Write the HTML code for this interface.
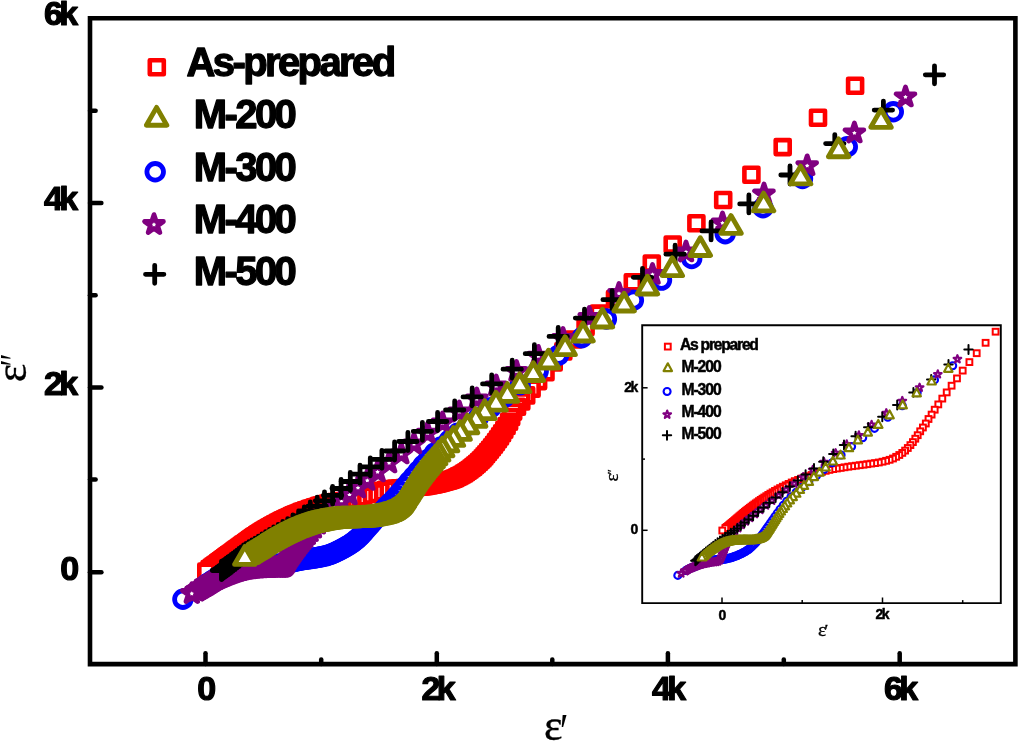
<!DOCTYPE html>
<html lang="en">
<head>
<meta charset="utf-8">
<title>Cole-Cole plot</title>
<style>
html,body{margin:0;padding:0;background:#fff;}
body{width:1019px;height:742px;overflow:hidden;}
svg{display:block;}
</style>
</head>
<body>
<svg width="1019" height="742" viewBox="0 0 1019 742">
<rect width="1019" height="742" fill="#fff"/>
<g fill="#fff" stroke="#ff0000" stroke-width="4.6" stroke-linejoin="round"><rect x="848.1" y="78.8" width="14" height="14"/><rect x="811.0" y="110.7" width="14" height="14"/><rect x="775.7" y="140.1" width="14" height="14"/><rect x="744.4" y="167.8" width="14" height="14"/><rect x="716.2" y="193.0" width="14" height="14"/><rect x="689.4" y="216.3" width="14" height="14"/><rect x="665.7" y="237.5" width="14" height="14"/><rect x="644.8" y="256.5" width="14" height="14"/><rect x="625.8" y="275.3" width="14" height="14"/><rect x="608.0" y="292.1" width="14" height="14"/><rect x="591.9" y="306.6" width="14" height="14"/><rect x="578.6" y="319.9" width="14" height="14"/><rect x="566.7" y="332.5" width="14" height="14"/><rect x="556.3" y="344.4" width="14" height="14"/><rect x="546.7" y="355.5" width="14" height="14"/><rect x="538.5" y="365.2" width="14" height="14"/><rect x="531.1" y="374.1" width="14" height="14"/><rect x="524.6" y="381.7" width="14" height="14"/><rect x="519.2" y="388.4" width="14" height="14"/><rect x="514.3" y="394.4" width="14" height="14"/><rect x="510.0" y="399.8" width="14" height="14"/><rect x="506.2" y="404.6" width="14" height="14"/><rect x="504.2" y="410.0" width="14" height="14"/><rect x="502.1" y="414.8" width="14" height="14"/><rect x="499.6" y="419.0" width="14" height="14"/><rect x="497.3" y="422.8" width="14" height="14"/><rect x="495.1" y="426.3" width="14" height="14"/><rect x="493.0" y="429.4" width="14" height="14"/><rect x="491.0" y="432.3" width="14" height="14"/><rect x="489.0" y="435.1" width="14" height="14"/><rect x="487.0" y="437.8" width="14" height="14"/><rect x="485.0" y="440.3" width="14" height="14"/><rect x="483.0" y="442.7" width="14" height="14"/><rect x="481.1" y="445.0" width="14" height="14"/><rect x="479.2" y="447.2" width="14" height="14"/><rect x="477.4" y="449.4" width="14" height="14"/><rect x="475.6" y="451.4" width="14" height="14"/><rect x="473.7" y="453.3" width="14" height="14"/><rect x="471.9" y="455.0" width="14" height="14"/><rect x="470.0" y="456.7" width="14" height="14"/><rect x="468.2" y="458.3" width="14" height="14"/><rect x="466.3" y="459.9" width="14" height="14"/><rect x="464.5" y="461.3" width="14" height="14"/><rect x="462.6" y="462.7" width="14" height="14"/><rect x="460.8" y="464.0" width="14" height="14"/><rect x="459.0" y="465.2" width="14" height="14"/><rect x="457.2" y="466.4" width="14" height="14"/><rect x="455.4" y="467.5" width="14" height="14"/><rect x="453.6" y="468.5" width="14" height="14"/><rect x="451.8" y="469.4" width="14" height="14"/><rect x="450.0" y="470.3" width="14" height="14"/><rect x="448.3" y="471.2" width="14" height="14"/><rect x="446.5" y="471.9" width="14" height="14"/><rect x="444.7" y="472.6" width="14" height="14"/><rect x="442.9" y="473.2" width="14" height="14"/><rect x="441.1" y="473.8" width="14" height="14"/><rect x="439.3" y="474.3" width="14" height="14"/><rect x="437.5" y="474.8" width="14" height="14"/><rect x="435.7" y="475.3" width="14" height="14"/><rect x="433.9" y="475.7" width="14" height="14"/><rect x="432.2" y="476.2" width="14" height="14"/><rect x="430.4" y="476.6" width="14" height="14"/><rect x="428.6" y="477.0" width="14" height="14"/><rect x="426.8" y="477.4" width="14" height="14"/><rect x="424.9" y="477.8" width="14" height="14"/><rect x="422.9" y="478.2" width="14" height="14"/><rect x="421.0" y="478.5" width="14" height="14"/><rect x="418.9" y="478.9" width="14" height="14"/><rect x="416.8" y="479.2" width="14" height="14"/><rect x="414.6" y="479.5" width="14" height="14"/><rect x="412.4" y="479.7" width="14" height="14"/><rect x="410.1" y="480.0" width="14" height="14"/><rect x="407.8" y="480.2" width="14" height="14"/><rect x="405.4" y="480.4" width="14" height="14"/><rect x="402.7" y="480.6" width="14" height="14"/><rect x="399.7" y="480.8" width="14" height="14"/><rect x="396.5" y="481.0" width="14" height="14"/><rect x="392.9" y="481.3" width="14" height="14"/><rect x="388.9" y="481.6" width="14" height="14"/><rect x="384.3" y="482.0" width="14" height="14"/><rect x="379.0" y="482.7" width="14" height="14"/><rect x="373.4" y="483.7" width="14" height="14"/><rect x="367.8" y="485.4" width="14" height="14"/><rect x="362.2" y="487.0" width="14" height="14"/><rect x="356.6" y="488.6" width="14" height="14"/><rect x="351.0" y="490.3" width="14" height="14"/><rect x="345.4" y="491.9" width="14" height="14"/><rect x="340.0" y="493.1" width="14" height="14"/><rect x="335.2" y="494.1" width="14" height="14"/><rect x="331.5" y="494.7" width="14" height="14"/><rect x="328.2" y="495.1" width="14" height="14"/><rect x="325.1" y="495.5" width="14" height="14"/><rect x="322.3" y="496.1" width="14" height="14"/><rect x="319.6" y="496.7" width="14" height="14"/><rect x="317.0" y="497.5" width="14" height="14"/><rect x="314.5" y="498.2" width="14" height="14"/><rect x="312.1" y="498.9" width="14" height="14"/><rect x="309.8" y="499.7" width="14" height="14"/><rect x="307.5" y="500.4" width="14" height="14"/><rect x="305.2" y="501.2" width="14" height="14"/><rect x="303.0" y="501.9" width="14" height="14"/><rect x="300.8" y="502.7" width="14" height="14"/><rect x="298.7" y="503.4" width="14" height="14"/><rect x="296.6" y="504.2" width="14" height="14"/><rect x="294.5" y="504.9" width="14" height="14"/><rect x="292.5" y="505.7" width="14" height="14"/><rect x="290.6" y="506.5" width="14" height="14"/><rect x="288.7" y="507.3" width="14" height="14"/><rect x="286.8" y="508.1" width="14" height="14"/><rect x="285.0" y="508.9" width="14" height="14"/><rect x="283.1" y="509.7" width="14" height="14"/><rect x="281.4" y="510.5" width="14" height="14"/><rect x="279.6" y="511.4" width="14" height="14"/><rect x="277.8" y="512.2" width="14" height="14"/><rect x="276.1" y="513.1" width="14" height="14"/><rect x="274.4" y="513.9" width="14" height="14"/><rect x="272.7" y="514.8" width="14" height="14"/><rect x="271.1" y="515.6" width="14" height="14"/><rect x="269.5" y="516.5" width="14" height="14"/><rect x="267.8" y="517.4" width="14" height="14"/><rect x="266.2" y="518.2" width="14" height="14"/><rect x="264.7" y="519.1" width="14" height="14"/><rect x="263.1" y="520.0" width="14" height="14"/><rect x="261.6" y="520.9" width="14" height="14"/><rect x="260.0" y="521.8" width="14" height="14"/><rect x="258.5" y="522.6" width="14" height="14"/><rect x="257.0" y="523.5" width="14" height="14"/><rect x="255.6" y="524.4" width="14" height="14"/><rect x="254.1" y="525.3" width="14" height="14"/><rect x="252.7" y="526.2" width="14" height="14"/><rect x="251.3" y="527.1" width="14" height="14"/><rect x="249.9" y="528.1" width="14" height="14"/><rect x="248.5" y="529.0" width="14" height="14"/><rect x="247.1" y="529.9" width="14" height="14"/><rect x="245.7" y="530.9" width="14" height="14"/><rect x="244.3" y="531.9" width="14" height="14"/><rect x="242.9" y="532.8" width="14" height="14"/><rect x="241.6" y="533.8" width="14" height="14"/><rect x="240.2" y="534.7" width="14" height="14"/><rect x="238.9" y="535.7" width="14" height="14"/><rect x="237.5" y="536.7" width="14" height="14"/><rect x="236.2" y="537.6" width="14" height="14"/><rect x="234.9" y="538.6" width="14" height="14"/><rect x="233.5" y="539.5" width="14" height="14"/><rect x="232.2" y="540.5" width="14" height="14"/><rect x="230.9" y="541.5" width="14" height="14"/><rect x="229.6" y="542.4" width="14" height="14"/><rect x="228.3" y="543.4" width="14" height="14"/><rect x="227.0" y="544.3" width="14" height="14"/><rect x="225.7" y="545.3" width="14" height="14"/><rect x="224.4" y="546.2" width="14" height="14"/><rect x="223.1" y="547.2" width="14" height="14"/><rect x="221.8" y="548.1" width="14" height="14"/><rect x="220.4" y="549.0" width="14" height="14"/><rect x="219.1" y="550.0" width="14" height="14"/><rect x="217.8" y="551.0" width="14" height="14"/><rect x="216.4" y="552.0" width="14" height="14"/><rect x="215.1" y="553.0" width="14" height="14"/><rect x="213.7" y="554.0" width="14" height="14"/><rect x="212.3" y="555.0" width="14" height="14"/><rect x="210.9" y="556.1" width="14" height="14"/><rect x="209.4" y="557.2" width="14" height="14"/><rect x="207.9" y="558.3" width="14" height="14"/><rect x="206.4" y="559.4" width="14" height="14"/><rect x="204.8" y="560.6" width="14" height="14"/><rect x="203.2" y="561.8" width="14" height="14"/><rect x="202.5" y="562.3" width="14" height="14"/><rect x="199.3" y="564.6" width="14" height="14"/></g>
<g fill="#fff" stroke="#0000ff" stroke-width="4.8"><circle cx="893.3" cy="111.8" r="8.3"/><circle cx="847.3" cy="146.7" r="8.3"/><circle cx="802.5" cy="178.5" r="8.3"/><circle cx="763.0" cy="207.8" r="8.3"/><circle cx="725.2" cy="233.7" r="8.3"/><circle cx="691.7" cy="258.5" r="8.3"/><circle cx="661.5" cy="280.1" r="8.3"/><circle cx="633.4" cy="300.2" r="8.3"/><circle cx="606.4" cy="319.0" r="8.3"/><circle cx="581.8" cy="337.7" r="8.3"/><circle cx="558.6" cy="355.1" r="8.3"/><circle cx="538.2" cy="370.9" r="8.3"/><circle cx="520.2" cy="384.8" r="8.3"/><circle cx="504.4" cy="397.1" r="8.3"/><circle cx="490.8" cy="407.7" r="8.3"/><circle cx="478.6" cy="417.1" r="8.3"/><circle cx="467.6" cy="425.5" r="8.3"/><circle cx="457.7" cy="433.2" r="8.3"/><circle cx="449.0" cy="440.5" r="8.3"/><circle cx="441.1" cy="447.0" r="8.3"/><circle cx="434.3" cy="453.3" r="8.3"/><circle cx="428.2" cy="459.5" r="8.3"/><circle cx="422.9" cy="465.5" r="8.3"/><circle cx="418.0" cy="471.3" r="8.3"/><circle cx="413.4" cy="476.7" r="8.3"/><circle cx="409.0" cy="481.8" r="8.3"/><circle cx="404.8" cy="486.8" r="8.3"/><circle cx="400.9" cy="491.5" r="8.3"/><circle cx="397.1" cy="495.8" r="8.3"/><circle cx="393.4" cy="499.8" r="8.3"/><circle cx="389.8" cy="503.4" r="8.3"/><circle cx="386.3" cy="506.8" r="8.3"/><circle cx="383.1" cy="510.2" r="8.3"/><circle cx="380.0" cy="513.5" r="8.3"/><circle cx="377.2" cy="516.7" r="8.3"/><circle cx="374.6" cy="519.7" r="8.3"/><circle cx="372.1" cy="522.7" r="8.3"/><circle cx="369.7" cy="525.4" r="8.3"/><circle cx="367.4" cy="528.0" r="8.3"/><circle cx="365.2" cy="530.5" r="8.3"/><circle cx="363.1" cy="532.9" r="8.3"/><circle cx="361.1" cy="535.1" r="8.3"/><circle cx="359.0" cy="537.2" r="8.3"/><circle cx="357.0" cy="539.1" r="8.3"/><circle cx="354.9" cy="540.8" r="8.3"/><circle cx="352.9" cy="542.4" r="8.3"/><circle cx="350.9" cy="543.8" r="8.3"/><circle cx="348.8" cy="545.1" r="8.3"/><circle cx="346.8" cy="546.3" r="8.3"/><circle cx="344.9" cy="547.4" r="8.3"/><circle cx="343.0" cy="548.4" r="8.3"/><circle cx="341.1" cy="549.4" r="8.3"/><circle cx="339.3" cy="550.4" r="8.3"/><circle cx="337.5" cy="551.3" r="8.3"/><circle cx="335.7" cy="552.1" r="8.3"/><circle cx="333.9" cy="553.0" r="8.3"/><circle cx="332.1" cy="553.7" r="8.3"/><circle cx="330.3" cy="554.4" r="8.3"/><circle cx="328.5" cy="555.0" r="8.3"/><circle cx="326.6" cy="555.6" r="8.3"/><circle cx="324.8" cy="556.0" r="8.3"/><circle cx="322.9" cy="556.5" r="8.3"/><circle cx="321.1" cy="556.8" r="8.3"/><circle cx="319.2" cy="557.2" r="8.3"/><circle cx="317.4" cy="557.5" r="8.3"/><circle cx="315.6" cy="557.8" r="8.3"/><circle cx="313.7" cy="558.1" r="8.3"/><circle cx="311.9" cy="558.3" r="8.3"/><circle cx="310.1" cy="558.6" r="8.3"/><circle cx="308.2" cy="558.9" r="8.3"/><circle cx="306.4" cy="559.1" r="8.3"/><circle cx="304.6" cy="559.4" r="8.3"/><circle cx="302.8" cy="559.7" r="8.3"/><circle cx="301.0" cy="560.0" r="8.3"/><circle cx="299.3" cy="560.3" r="8.3"/><circle cx="297.4" cy="560.7" r="8.3"/><circle cx="295.4" cy="561.1" r="8.3"/><circle cx="293.3" cy="561.6" r="8.3"/><circle cx="291.1" cy="562.1" r="8.3"/><circle cx="288.6" cy="562.6" r="8.3"/><circle cx="286.0" cy="563.2" r="8.3"/><circle cx="283.2" cy="563.6" r="8.3"/><circle cx="280.2" cy="564.0" r="8.3"/><circle cx="277.3" cy="564.3" r="8.3"/><circle cx="274.3" cy="564.6" r="8.3"/><circle cx="271.3" cy="564.9" r="8.3"/><circle cx="268.3" cy="565.2" r="8.3"/><circle cx="265.3" cy="565.6" r="8.3"/><circle cx="262.3" cy="565.9" r="8.3"/><circle cx="259.3" cy="566.2" r="8.3"/><circle cx="256.4" cy="566.5" r="8.3"/><circle cx="253.4" cy="566.8" r="8.3"/><circle cx="250.4" cy="567.1" r="8.3"/><circle cx="247.4" cy="567.5" r="8.3"/><circle cx="244.5" cy="568.0" r="8.3"/><circle cx="241.5" cy="568.6" r="8.3"/><circle cx="238.6" cy="569.3" r="8.3"/><circle cx="235.7" cy="570.1" r="8.3"/><circle cx="232.8" cy="570.9" r="8.3"/><circle cx="230.0" cy="571.9" r="8.3"/><circle cx="227.2" cy="572.9" r="8.3"/><circle cx="224.4" cy="574.0" r="8.3"/><circle cx="221.6" cy="575.2" r="8.3"/><circle cx="218.9" cy="576.5" r="8.3"/><circle cx="216.3" cy="578.0" r="8.3"/><circle cx="213.8" cy="579.6" r="8.3"/><circle cx="211.3" cy="581.2" r="8.3"/><circle cx="208.8" cy="582.9" r="8.3"/><circle cx="207.0" cy="584.0" r="8.3"/><circle cx="182.9" cy="599.2" r="8.3"/></g>
<g fill="#fff" stroke="#800080" stroke-width="4.8" stroke-linejoin="round"><path d="M905.5 96.0m0.00 -8.95l2.22 6.84l7.19 0.00l-5.82 4.23l2.22 6.84l-5.82 -4.23l-5.82 4.23l2.22 -6.84l-5.82 -4.23l7.19 -0.00z"/><path d="M854.4 132.0m0.00 -8.95l2.22 6.84l7.19 0.00l-5.82 4.23l2.22 6.84l-5.82 -4.23l-5.82 4.23l2.22 -6.84l-5.82 -4.23l7.19 -0.00z"/><path d="M807.2 164.8m0.00 -8.95l2.22 6.84l7.19 0.00l-5.82 4.23l2.22 6.84l-5.82 -4.23l-5.82 4.23l2.22 -6.84l-5.82 -4.23l7.19 -0.00z"/><path d="M764.0 193.0m0.00 -8.95l2.22 6.84l7.19 0.00l-5.82 4.23l2.22 6.84l-5.82 -4.23l-5.82 4.23l2.22 -6.84l-5.82 -4.23l7.19 -0.00z"/><path d="M722.5 222.0m0.00 -8.95l2.22 6.84l7.19 0.00l-5.82 4.23l2.22 6.84l-5.82 -4.23l-5.82 4.23l2.22 -6.84l-5.82 -4.23l7.19 -0.00z"/><path d="M686.0 251.0m0.00 -8.95l2.22 6.84l7.19 0.00l-5.82 4.23l2.22 6.84l-5.82 -4.23l-5.82 4.23l2.22 -6.84l-5.82 -4.23l7.19 -0.00z"/><path d="M652.5 273.5m0.00 -8.95l2.22 6.84l7.19 0.00l-5.82 4.23l2.22 6.84l-5.82 -4.23l-5.82 4.23l2.22 -6.84l-5.82 -4.23l7.19 -0.00z"/><path d="M619.0 292.5m0.00 -8.95l2.22 6.84l7.19 0.00l-5.82 4.23l2.22 6.84l-5.82 -4.23l-5.82 4.23l2.22 -6.84l-5.82 -4.23l7.19 -0.00z"/><path d="M589.3 316.5m0.00 -8.95l2.22 6.84l7.19 0.00l-5.82 4.23l2.22 6.84l-5.82 -4.23l-5.82 4.23l2.22 -6.84l-5.82 -4.23l7.19 -0.00z"/><path d="M563.0 337.5m0.00 -8.95l2.22 6.84l7.19 0.00l-5.82 4.23l2.22 6.84l-5.82 -4.23l-5.82 4.23l2.22 -6.84l-5.82 -4.23l7.19 -0.00z"/><path d="M538.3 355.3m0.00 -8.95l2.22 6.84l7.19 0.00l-5.82 4.23l2.22 6.84l-5.82 -4.23l-5.82 4.23l2.22 -6.84l-5.82 -4.23l7.19 -0.00z"/><path d="M516.5 370.5m0.00 -8.95l2.22 6.84l7.19 0.00l-5.82 4.23l2.22 6.84l-5.82 -4.23l-5.82 4.23l2.22 -6.84l-5.82 -4.23l7.19 -0.00z"/><path d="M496.2 385.0m0.00 -8.95l2.22 6.84l7.19 0.00l-5.82 4.23l2.22 6.84l-5.82 -4.23l-5.82 4.23l2.22 -6.84l-5.82 -4.23l7.19 -0.00z"/><path d="M476.8 398.0m0.00 -8.95l2.22 6.84l7.19 0.00l-5.82 4.23l2.22 6.84l-5.82 -4.23l-5.82 4.23l2.22 -6.84l-5.82 -4.23l7.19 -0.00z"/><path d="M459.3 411.0m0.00 -8.95l2.22 6.84l7.19 0.00l-5.82 4.23l2.22 6.84l-5.82 -4.23l-5.82 4.23l2.22 -6.84l-5.82 -4.23l7.19 -0.00z"/><path d="M442.5 422.0m0.00 -8.95l2.22 6.84l7.19 0.00l-5.82 4.23l2.22 6.84l-5.82 -4.23l-5.82 4.23l2.22 -6.84l-5.82 -4.23l7.19 -0.00z"/><path d="M427.6 432.3m0.00 -8.95l2.22 6.84l7.19 0.00l-5.82 4.23l2.22 6.84l-5.82 -4.23l-5.82 4.23l2.22 -6.84l-5.82 -4.23l7.19 -0.00z"/><path d="M414.0 443.0m0.00 -8.95l2.22 6.84l7.19 0.00l-5.82 4.23l2.22 6.84l-5.82 -4.23l-5.82 4.23l2.22 -6.84l-5.82 -4.23l7.19 -0.00z"/><path d="M401.3 453.0m0.00 -8.95l2.22 6.84l7.19 0.00l-5.82 4.23l2.22 6.84l-5.82 -4.23l-5.82 4.23l2.22 -6.84l-5.82 -4.23l7.19 -0.00z"/><path d="M389.1 462.0m0.00 -8.95l2.22 6.84l7.19 0.00l-5.82 4.23l2.22 6.84l-5.82 -4.23l-5.82 4.23l2.22 -6.84l-5.82 -4.23l7.19 -0.00z"/><path d="M377.6 471.0m0.00 -8.95l2.22 6.84l7.19 0.00l-5.82 4.23l2.22 6.84l-5.82 -4.23l-5.82 4.23l2.22 -6.84l-5.82 -4.23l7.19 -0.00z"/><path d="M367.3 479.5m0.00 -8.95l2.22 6.84l7.19 0.00l-5.82 4.23l2.22 6.84l-5.82 -4.23l-5.82 4.23l2.22 -6.84l-5.82 -4.23l7.19 -0.00z"/><path d="M358.0 487.0m0.00 -8.95l2.22 6.84l7.19 0.00l-5.82 4.23l2.22 6.84l-5.82 -4.23l-5.82 4.23l2.22 -6.84l-5.82 -4.23l7.19 -0.00z"/><path d="M349.5 494.0m0.00 -8.95l2.22 6.84l7.19 0.00l-5.82 4.23l2.22 6.84l-5.82 -4.23l-5.82 4.23l2.22 -6.84l-5.82 -4.23l7.19 -0.00z"/><path d="M341.5 500.5m0.00 -8.95l2.22 6.84l7.19 0.00l-5.82 4.23l2.22 6.84l-5.82 -4.23l-5.82 4.23l2.22 -6.84l-5.82 -4.23l7.19 -0.00z"/><path d="M334.2 506.8m0.00 -8.95l2.22 6.84l7.19 0.00l-5.82 4.23l2.22 6.84l-5.82 -4.23l-5.82 4.23l2.22 -6.84l-5.82 -4.23l7.19 -0.00z"/><path d="M327.8 513.2m0.00 -8.95l2.22 6.84l7.19 0.00l-5.82 4.23l2.22 6.84l-5.82 -4.23l-5.82 4.23l2.22 -6.84l-5.82 -4.23l7.19 -0.00z"/><path d="M322.4 518.6m0.00 -8.95l2.22 6.84l7.19 0.00l-5.82 4.23l2.22 6.84l-5.82 -4.23l-5.82 4.23l2.22 -6.84l-5.82 -4.23l7.19 -0.00z"/><path d="M317.8 523.2m0.00 -8.95l2.22 6.84l7.19 0.00l-5.82 4.23l2.22 6.84l-5.82 -4.23l-5.82 4.23l2.22 -6.84l-5.82 -4.23l7.19 -0.00z"/><path d="M313.9 527.2m0.00 -8.95l2.22 6.84l7.19 0.00l-5.82 4.23l2.22 6.84l-5.82 -4.23l-5.82 4.23l2.22 -6.84l-5.82 -4.23l7.19 -0.00z"/><path d="M310.6 530.7m0.00 -8.95l2.22 6.84l7.19 0.00l-5.82 4.23l2.22 6.84l-5.82 -4.23l-5.82 4.23l2.22 -6.84l-5.82 -4.23l7.19 -0.00z"/><path d="M307.8 533.8m0.00 -8.95l2.22 6.84l7.19 0.00l-5.82 4.23l2.22 6.84l-5.82 -4.23l-5.82 4.23l2.22 -6.84l-5.82 -4.23l7.19 -0.00z"/><path d="M305.3 536.6m0.00 -8.95l2.22 6.84l7.19 0.00l-5.82 4.23l2.22 6.84l-5.82 -4.23l-5.82 4.23l2.22 -6.84l-5.82 -4.23l7.19 -0.00z"/><path d="M303.2 539.1m0.00 -8.95l2.22 6.84l7.19 0.00l-5.82 4.23l2.22 6.84l-5.82 -4.23l-5.82 4.23l2.22 -6.84l-5.82 -4.23l7.19 -0.00z"/><path d="M301.2 541.4m0.00 -8.95l2.22 6.84l7.19 0.00l-5.82 4.23l2.22 6.84l-5.82 -4.23l-5.82 4.23l2.22 -6.84l-5.82 -4.23l7.19 -0.00z"/><path d="M299.4 543.6m0.00 -8.95l2.22 6.84l7.19 0.00l-5.82 4.23l2.22 6.84l-5.82 -4.23l-5.82 4.23l2.22 -6.84l-5.82 -4.23l7.19 -0.00z"/><path d="M297.8 545.7m0.00 -8.95l2.22 6.84l7.19 0.00l-5.82 4.23l2.22 6.84l-5.82 -4.23l-5.82 4.23l2.22 -6.84l-5.82 -4.23l7.19 -0.00z"/><path d="M296.2 547.7m0.00 -8.95l2.22 6.84l7.19 0.00l-5.82 4.23l2.22 6.84l-5.82 -4.23l-5.82 4.23l2.22 -6.84l-5.82 -4.23l7.19 -0.00z"/><path d="M294.9 549.5m0.00 -8.95l2.22 6.84l7.19 0.00l-5.82 4.23l2.22 6.84l-5.82 -4.23l-5.82 4.23l2.22 -6.84l-5.82 -4.23l7.19 -0.00z"/><path d="M293.6 551.4m0.00 -8.95l2.22 6.84l7.19 0.00l-5.82 4.23l2.22 6.84l-5.82 -4.23l-5.82 4.23l2.22 -6.84l-5.82 -4.23l7.19 -0.00z"/><path d="M292.4 553.1m0.00 -8.95l2.22 6.84l7.19 0.00l-5.82 4.23l2.22 6.84l-5.82 -4.23l-5.82 4.23l2.22 -6.84l-5.82 -4.23l7.19 -0.00z"/><path d="M291.2 554.8m0.00 -8.95l2.22 6.84l7.19 0.00l-5.82 4.23l2.22 6.84l-5.82 -4.23l-5.82 4.23l2.22 -6.84l-5.82 -4.23l7.19 -0.00z"/><path d="M290.1 556.4m0.00 -8.95l2.22 6.84l7.19 0.00l-5.82 4.23l2.22 6.84l-5.82 -4.23l-5.82 4.23l2.22 -6.84l-5.82 -4.23l7.19 -0.00z"/><path d="M289.0 558.0m0.00 -8.95l2.22 6.84l7.19 0.00l-5.82 4.23l2.22 6.84l-5.82 -4.23l-5.82 4.23l2.22 -6.84l-5.82 -4.23l7.19 -0.00z"/><path d="M288.1 559.5m0.00 -8.95l2.22 6.84l7.19 0.00l-5.82 4.23l2.22 6.84l-5.82 -4.23l-5.82 4.23l2.22 -6.84l-5.82 -4.23l7.19 -0.00z"/><path d="M287.3 561.1m0.00 -8.95l2.22 6.84l7.19 0.00l-5.82 4.23l2.22 6.84l-5.82 -4.23l-5.82 4.23l2.22 -6.84l-5.82 -4.23l7.19 -0.00z"/><path d="M286.6 562.7m0.00 -8.95l2.22 6.84l7.19 0.00l-5.82 4.23l2.22 6.84l-5.82 -4.23l-5.82 4.23l2.22 -6.84l-5.82 -4.23l7.19 -0.00z"/><path d="M285.6 564.1m0.00 -8.95l2.22 6.84l7.19 0.00l-5.82 4.23l2.22 6.84l-5.82 -4.23l-5.82 4.23l2.22 -6.84l-5.82 -4.23l7.19 -0.00z"/><path d="M284.4 565.2m0.00 -8.95l2.22 6.84l7.19 0.00l-5.82 4.23l2.22 6.84l-5.82 -4.23l-5.82 4.23l2.22 -6.84l-5.82 -4.23l7.19 -0.00z"/><path d="M283.0 566.0m0.00 -8.95l2.22 6.84l7.19 0.00l-5.82 4.23l2.22 6.84l-5.82 -4.23l-5.82 4.23l2.22 -6.84l-5.82 -4.23l7.19 -0.00z"/><path d="M281.5 566.4m0.00 -8.95l2.22 6.84l7.19 0.00l-5.82 4.23l2.22 6.84l-5.82 -4.23l-5.82 4.23l2.22 -6.84l-5.82 -4.23l7.19 -0.00z"/><path d="M279.8 566.6m0.00 -8.95l2.22 6.84l7.19 0.00l-5.82 4.23l2.22 6.84l-5.82 -4.23l-5.82 4.23l2.22 -6.84l-5.82 -4.23l7.19 -0.00z"/><path d="M278.2 566.6m0.00 -8.95l2.22 6.84l7.19 0.00l-5.82 4.23l2.22 6.84l-5.82 -4.23l-5.82 4.23l2.22 -6.84l-5.82 -4.23l7.19 -0.00z"/><path d="M276.5 566.6m0.00 -8.95l2.22 6.84l7.19 0.00l-5.82 4.23l2.22 6.84l-5.82 -4.23l-5.82 4.23l2.22 -6.84l-5.82 -4.23l7.19 -0.00z"/><path d="M274.8 566.6m0.00 -8.95l2.22 6.84l7.19 0.00l-5.82 4.23l2.22 6.84l-5.82 -4.23l-5.82 4.23l2.22 -6.84l-5.82 -4.23l7.19 -0.00z"/><path d="M273.1 566.5m0.00 -8.95l2.22 6.84l7.19 0.00l-5.82 4.23l2.22 6.84l-5.82 -4.23l-5.82 4.23l2.22 -6.84l-5.82 -4.23l7.19 -0.00z"/><path d="M271.4 566.4m0.00 -8.95l2.22 6.84l7.19 0.00l-5.82 4.23l2.22 6.84l-5.82 -4.23l-5.82 4.23l2.22 -6.84l-5.82 -4.23l7.19 -0.00z"/><path d="M269.7 566.4m0.00 -8.95l2.22 6.84l7.19 0.00l-5.82 4.23l2.22 6.84l-5.82 -4.23l-5.82 4.23l2.22 -6.84l-5.82 -4.23l7.19 -0.00z"/><path d="M267.9 566.4m0.00 -8.95l2.22 6.84l7.19 0.00l-5.82 4.23l2.22 6.84l-5.82 -4.23l-5.82 4.23l2.22 -6.84l-5.82 -4.23l7.19 -0.00z"/><path d="M266.1 566.5m0.00 -8.95l2.22 6.84l7.19 0.00l-5.82 4.23l2.22 6.84l-5.82 -4.23l-5.82 4.23l2.22 -6.84l-5.82 -4.23l7.19 -0.00z"/><path d="M264.3 566.6m0.00 -8.95l2.22 6.84l7.19 0.00l-5.82 4.23l2.22 6.84l-5.82 -4.23l-5.82 4.23l2.22 -6.84l-5.82 -4.23l7.19 -0.00z"/><path d="M262.5 566.7m0.00 -8.95l2.22 6.84l7.19 0.00l-5.82 4.23l2.22 6.84l-5.82 -4.23l-5.82 4.23l2.22 -6.84l-5.82 -4.23l7.19 -0.00z"/><path d="M260.8 566.8m0.00 -8.95l2.22 6.84l7.19 0.00l-5.82 4.23l2.22 6.84l-5.82 -4.23l-5.82 4.23l2.22 -6.84l-5.82 -4.23l7.19 -0.00z"/><path d="M259.0 566.9m0.00 -8.95l2.22 6.84l7.19 0.00l-5.82 4.23l2.22 6.84l-5.82 -4.23l-5.82 4.23l2.22 -6.84l-5.82 -4.23l7.19 -0.00z"/><path d="M257.3 567.1m0.00 -8.95l2.22 6.84l7.19 0.00l-5.82 4.23l2.22 6.84l-5.82 -4.23l-5.82 4.23l2.22 -6.84l-5.82 -4.23l7.19 -0.00z"/><path d="M255.6 567.2m0.00 -8.95l2.22 6.84l7.19 0.00l-5.82 4.23l2.22 6.84l-5.82 -4.23l-5.82 4.23l2.22 -6.84l-5.82 -4.23l7.19 -0.00z"/><path d="M253.9 567.3m0.00 -8.95l2.22 6.84l7.19 0.00l-5.82 4.23l2.22 6.84l-5.82 -4.23l-5.82 4.23l2.22 -6.84l-5.82 -4.23l7.19 -0.00z"/><path d="M252.2 567.5m0.00 -8.95l2.22 6.84l7.19 0.00l-5.82 4.23l2.22 6.84l-5.82 -4.23l-5.82 4.23l2.22 -6.84l-5.82 -4.23l7.19 -0.00z"/><path d="M250.5 567.7m0.00 -8.95l2.22 6.84l7.19 0.00l-5.82 4.23l2.22 6.84l-5.82 -4.23l-5.82 4.23l2.22 -6.84l-5.82 -4.23l7.19 -0.00z"/><path d="M248.9 567.9m0.00 -8.95l2.22 6.84l7.19 0.00l-5.82 4.23l2.22 6.84l-5.82 -4.23l-5.82 4.23l2.22 -6.84l-5.82 -4.23l7.19 -0.00z"/><path d="M247.2 568.1m0.00 -8.95l2.22 6.84l7.19 0.00l-5.82 4.23l2.22 6.84l-5.82 -4.23l-5.82 4.23l2.22 -6.84l-5.82 -4.23l7.19 -0.00z"/><path d="M245.6 568.3m0.00 -8.95l2.22 6.84l7.19 0.00l-5.82 4.23l2.22 6.84l-5.82 -4.23l-5.82 4.23l2.22 -6.84l-5.82 -4.23l7.19 -0.00z"/><path d="M244.0 568.6m0.00 -8.95l2.22 6.84l7.19 0.00l-5.82 4.23l2.22 6.84l-5.82 -4.23l-5.82 4.23l2.22 -6.84l-5.82 -4.23l7.19 -0.00z"/><path d="M242.4 568.9m0.00 -8.95l2.22 6.84l7.19 0.00l-5.82 4.23l2.22 6.84l-5.82 -4.23l-5.82 4.23l2.22 -6.84l-5.82 -4.23l7.19 -0.00z"/><path d="M240.8 569.3m0.00 -8.95l2.22 6.84l7.19 0.00l-5.82 4.23l2.22 6.84l-5.82 -4.23l-5.82 4.23l2.22 -6.84l-5.82 -4.23l7.19 -0.00z"/><path d="M239.3 569.7m0.00 -8.95l2.22 6.84l7.19 0.00l-5.82 4.23l2.22 6.84l-5.82 -4.23l-5.82 4.23l2.22 -6.84l-5.82 -4.23l7.19 -0.00z"/><path d="M237.8 570.1m0.00 -8.95l2.22 6.84l7.19 0.00l-5.82 4.23l2.22 6.84l-5.82 -4.23l-5.82 4.23l2.22 -6.84l-5.82 -4.23l7.19 -0.00z"/><path d="M236.3 570.5m0.00 -8.95l2.22 6.84l7.19 0.00l-5.82 4.23l2.22 6.84l-5.82 -4.23l-5.82 4.23l2.22 -6.84l-5.82 -4.23l7.19 -0.00z"/><path d="M234.8 571.0m0.00 -8.95l2.22 6.84l7.19 0.00l-5.82 4.23l2.22 6.84l-5.82 -4.23l-5.82 4.23l2.22 -6.84l-5.82 -4.23l7.19 -0.00z"/><path d="M233.4 571.4m0.00 -8.95l2.22 6.84l7.19 0.00l-5.82 4.23l2.22 6.84l-5.82 -4.23l-5.82 4.23l2.22 -6.84l-5.82 -4.23l7.19 -0.00z"/><path d="M232.0 571.9m0.00 -8.95l2.22 6.84l7.19 0.00l-5.82 4.23l2.22 6.84l-5.82 -4.23l-5.82 4.23l2.22 -6.84l-5.82 -4.23l7.19 -0.00z"/><path d="M230.6 572.4m0.00 -8.95l2.22 6.84l7.19 0.00l-5.82 4.23l2.22 6.84l-5.82 -4.23l-5.82 4.23l2.22 -6.84l-5.82 -4.23l7.19 -0.00z"/><path d="M229.2 572.9m0.00 -8.95l2.22 6.84l7.19 0.00l-5.82 4.23l2.22 6.84l-5.82 -4.23l-5.82 4.23l2.22 -6.84l-5.82 -4.23l7.19 -0.00z"/><path d="M227.9 573.4m0.00 -8.95l2.22 6.84l7.19 0.00l-5.82 4.23l2.22 6.84l-5.82 -4.23l-5.82 4.23l2.22 -6.84l-5.82 -4.23l7.19 -0.00z"/><path d="M226.5 573.9m0.00 -8.95l2.22 6.84l7.19 0.00l-5.82 4.23l2.22 6.84l-5.82 -4.23l-5.82 4.23l2.22 -6.84l-5.82 -4.23l7.19 -0.00z"/><path d="M225.2 574.4m0.00 -8.95l2.22 6.84l7.19 0.00l-5.82 4.23l2.22 6.84l-5.82 -4.23l-5.82 4.23l2.22 -6.84l-5.82 -4.23l7.19 -0.00z"/><path d="M223.9 574.9m0.00 -8.95l2.22 6.84l7.19 0.00l-5.82 4.23l2.22 6.84l-5.82 -4.23l-5.82 4.23l2.22 -6.84l-5.82 -4.23l7.19 -0.00z"/><path d="M222.7 575.5m0.00 -8.95l2.22 6.84l7.19 0.00l-5.82 4.23l2.22 6.84l-5.82 -4.23l-5.82 4.23l2.22 -6.84l-5.82 -4.23l7.19 -0.00z"/><path d="M221.4 576.0m0.00 -8.95l2.22 6.84l7.19 0.00l-5.82 4.23l2.22 6.84l-5.82 -4.23l-5.82 4.23l2.22 -6.84l-5.82 -4.23l7.19 -0.00z"/><path d="M220.2 576.5m0.00 -8.95l2.22 6.84l7.19 0.00l-5.82 4.23l2.22 6.84l-5.82 -4.23l-5.82 4.23l2.22 -6.84l-5.82 -4.23l7.19 -0.00z"/><path d="M219.0 577.0m0.00 -8.95l2.22 6.84l7.19 0.00l-5.82 4.23l2.22 6.84l-5.82 -4.23l-5.82 4.23l2.22 -6.84l-5.82 -4.23l7.19 -0.00z"/><path d="M217.8 577.6m0.00 -8.95l2.22 6.84l7.19 0.00l-5.82 4.23l2.22 6.84l-5.82 -4.23l-5.82 4.23l2.22 -6.84l-5.82 -4.23l7.19 -0.00z"/><path d="M216.6 578.1m0.00 -8.95l2.22 6.84l7.19 0.00l-5.82 4.23l2.22 6.84l-5.82 -4.23l-5.82 4.23l2.22 -6.84l-5.82 -4.23l7.19 -0.00z"/><path d="M215.5 578.7m0.00 -8.95l2.22 6.84l7.19 0.00l-5.82 4.23l2.22 6.84l-5.82 -4.23l-5.82 4.23l2.22 -6.84l-5.82 -4.23l7.19 -0.00z"/><path d="M214.3 579.3m0.00 -8.95l2.22 6.84l7.19 0.00l-5.82 4.23l2.22 6.84l-5.82 -4.23l-5.82 4.23l2.22 -6.84l-5.82 -4.23l7.19 -0.00z"/><path d="M213.2 579.9m0.00 -8.95l2.22 6.84l7.19 0.00l-5.82 4.23l2.22 6.84l-5.82 -4.23l-5.82 4.23l2.22 -6.84l-5.82 -4.23l7.19 -0.00z"/><path d="M212.1 580.6m0.00 -8.95l2.22 6.84l7.19 0.00l-5.82 4.23l2.22 6.84l-5.82 -4.23l-5.82 4.23l2.22 -6.84l-5.82 -4.23l7.19 -0.00z"/><path d="M211.1 581.2m0.00 -8.95l2.22 6.84l7.19 0.00l-5.82 4.23l2.22 6.84l-5.82 -4.23l-5.82 4.23l2.22 -6.84l-5.82 -4.23l7.19 -0.00z"/><path d="M210.0 581.9m0.00 -8.95l2.22 6.84l7.19 0.00l-5.82 4.23l2.22 6.84l-5.82 -4.23l-5.82 4.23l2.22 -6.84l-5.82 -4.23l7.19 -0.00z"/><path d="M209.0 582.5m0.00 -8.95l2.22 6.84l7.19 0.00l-5.82 4.23l2.22 6.84l-5.82 -4.23l-5.82 4.23l2.22 -6.84l-5.82 -4.23l7.19 -0.00z"/><path d="M207.9 583.2m0.00 -8.95l2.22 6.84l7.19 0.00l-5.82 4.23l2.22 6.84l-5.82 -4.23l-5.82 4.23l2.22 -6.84l-5.82 -4.23l7.19 -0.00z"/><path d="M206.9 583.9m0.00 -8.95l2.22 6.84l7.19 0.00l-5.82 4.23l2.22 6.84l-5.82 -4.23l-5.82 4.23l2.22 -6.84l-5.82 -4.23l7.19 -0.00z"/><path d="M205.9 584.5m0.00 -8.95l2.22 6.84l7.19 0.00l-5.82 4.23l2.22 6.84l-5.82 -4.23l-5.82 4.23l2.22 -6.84l-5.82 -4.23l7.19 -0.00z"/><path d="M204.8 585.1m0.00 -8.95l2.22 6.84l7.19 0.00l-5.82 4.23l2.22 6.84l-5.82 -4.23l-5.82 4.23l2.22 -6.84l-5.82 -4.23l7.19 -0.00z"/><path d="M203.8 585.7m0.00 -8.95l2.22 6.84l7.19 0.00l-5.82 4.23l2.22 6.84l-5.82 -4.23l-5.82 4.23l2.22 -6.84l-5.82 -4.23l7.19 -0.00z"/><path d="M202.7 586.3m0.00 -8.95l2.22 6.84l7.19 0.00l-5.82 4.23l2.22 6.84l-5.82 -4.23l-5.82 4.23l2.22 -6.84l-5.82 -4.23l7.19 -0.00z"/><path d="M201.7 586.9m0.00 -8.95l2.22 6.84l7.19 0.00l-5.82 4.23l2.22 6.84l-5.82 -4.23l-5.82 4.23l2.22 -6.84l-5.82 -4.23l7.19 -0.00z"/><path d="M200.7 587.5m0.00 -8.95l2.22 6.84l7.19 0.00l-5.82 4.23l2.22 6.84l-5.82 -4.23l-5.82 4.23l2.22 -6.84l-5.82 -4.23l7.19 -0.00z"/><path d="M199.6 588.1m0.00 -8.95l2.22 6.84l7.19 0.00l-5.82 4.23l2.22 6.84l-5.82 -4.23l-5.82 4.23l2.22 -6.84l-5.82 -4.23l7.19 -0.00z"/><path d="M198.6 588.7m0.00 -8.95l2.22 6.84l7.19 0.00l-5.82 4.23l2.22 6.84l-5.82 -4.23l-5.82 4.23l2.22 -6.84l-5.82 -4.23l7.19 -0.00z"/><path d="M197.5 589.3m0.00 -8.95l2.22 6.84l7.19 0.00l-5.82 4.23l2.22 6.84l-5.82 -4.23l-5.82 4.23l2.22 -6.84l-5.82 -4.23l7.19 -0.00z"/><path d="M196.5 589.9m0.00 -8.95l2.22 6.84l7.19 0.00l-5.82 4.23l2.22 6.84l-5.82 -4.23l-5.82 4.23l2.22 -6.84l-5.82 -4.23l7.19 -0.00z"/><path d="M196.0 590.2m0.00 -8.95l2.22 6.84l7.19 0.00l-5.82 4.23l2.22 6.84l-5.82 -4.23l-5.82 4.23l2.22 -6.84l-5.82 -4.23l7.19 -0.00z"/><path d="M191.8 592.6m0.00 -8.95l2.22 6.84l7.19 0.00l-5.82 4.23l2.22 6.84l-5.82 -4.23l-5.82 4.23l2.22 -6.84l-5.82 -4.23l7.19 -0.00z"/></g>
<g fill="none" stroke="#000000" stroke-width="4.8" stroke-linecap="round"><path d="M925.3 74.8h18.4M934.5 65.8v18"/><path d="M874.2 110.1h18.4M883.4 101.1v18"/><path d="M825.6 143.6h18.4M834.8 134.6v18"/><path d="M780.8 175.0h18.4M790.0 166.0v18"/><path d="M739.7 203.9h18.4M748.9 194.9v18"/><path d="M701.9 230.9h18.4M711.1 221.9v18"/><path d="M665.9 254.2h18.4M675.1 245.2v18"/><path d="M633.3 277.3h18.4M642.5 268.3v18"/><path d="M602.9 299.7h18.4M612.1 290.7v18"/><path d="M575.3 318.1h18.4M584.5 309.1v18"/><path d="M549.0 336.4h18.4M558.2 327.4v18"/><path d="M525.2 353.7h18.4M534.4 344.7v18"/><path d="M503.0 369.2h18.4M512.2 360.2v18"/><path d="M482.5 383.9h18.4M491.7 374.9v18"/><path d="M463.0 396.9h18.4M472.2 387.9v18"/><path d="M445.5 410.0h18.4M454.7 401.0v18"/><path d="M428.4 421.5h18.4M437.6 412.5v18"/><path d="M413.2 431.3h18.4M422.4 422.3v18"/><path d="M398.7 441.5h18.4M407.9 432.5v18"/><path d="M385.4 451.0h18.4M394.6 442.0v18"/><path d="M372.7 459.3h18.4M381.9 450.3v18"/><path d="M361.1 466.8h18.4M370.3 457.8v18"/><path d="M350.8 474.2h18.4M360.0 465.2v18"/><path d="M341.1 481.5h18.4M350.3 472.5v18"/><path d="M331.9 488.5h18.4M341.1 479.5v18"/><path d="M323.4 495.3h18.4M332.6 486.3v18"/><path d="M315.3 500.8h18.4M324.5 491.8v18"/><path d="M308.0 506.2h18.4M317.2 497.2v18"/><path d="M301.1 511.0h18.4M310.3 502.0v18"/><path d="M295.1 516.0h18.4M304.3 507.0v18"/><path d="M289.4 520.0h18.4M298.6 511.0v18"/><path d="M283.7 524.0h18.4M292.9 515.0v18"/><path d="M278.5 527.6h18.4M287.7 518.6v18"/><path d="M273.6 530.5h18.4M282.8 521.5v18"/><path d="M269.0 533.3h18.4M278.2 524.3v18"/><path d="M264.5 535.9h18.4M273.7 526.9v18"/><path d="M260.3 538.3h18.4M269.5 529.3v18"/><path d="M256.4 540.7h18.4M265.6 531.7v18"/><path d="M252.7 543.0h18.4M261.9 534.0v18"/><path d="M249.2 545.1h18.4M258.4 536.1v18"/><path d="M245.9 547.1h18.4M255.1 538.1v18"/><path d="M242.7 548.9h18.4M251.9 539.9v18"/><path d="M239.7 550.6h18.4M248.9 541.6v18"/><path d="M236.9 552.3h18.4M246.1 543.3v18"/><path d="M234.4 554.0h18.4M243.6 545.0v18"/><path d="M232.0 555.8h18.4M241.2 546.8v18"/><path d="M229.8 557.5h18.4M239.0 548.5v18"/><path d="M227.8 559.1h18.4M237.0 550.1v18"/><path d="M225.8 560.7h18.4M235.0 551.7v18"/><path d="M223.9 562.1h18.4M233.1 553.1v18"/><path d="M222.1 563.5h18.4M231.3 554.5v18"/><path d="M220.4 564.8h18.4M229.6 555.8v18"/><path d="M218.7 566.0h18.4M227.9 557.0v18"/><path d="M217.0 567.2h18.4M226.2 558.2v18"/><path d="M215.5 568.3h18.4M224.7 559.3v18"/><path d="M214.0 569.3h18.4M223.2 560.3v18"/><path d="M212.6 570.3h18.4M221.8 561.3v18"/><path d="M212.3 570.5h18.4M221.5 561.5v18"/></g>
<g fill="#fff" stroke="#808000" stroke-width="4.85" stroke-linejoin="round"><path d="M881.0 109.5l10.25 17.8h-20.5z"/><path d="M838.6 138.9l10.25 17.8h-20.5z"/><path d="M800.6 166.1l10.25 17.8h-20.5z"/><path d="M763.6 193.1l10.25 17.8h-20.5z"/><path d="M731.0 215.5l10.25 17.8h-20.5z"/><path d="M700.3 237.7l10.25 17.8h-20.5z"/><path d="M672.3 257.8l10.25 17.8h-20.5z"/><path d="M647.4 276.2l10.25 17.8h-20.5z"/><path d="M624.1 293.2l10.25 17.8h-20.5z"/><path d="M602.4 309.2l10.25 17.8h-20.5z"/><path d="M583.0 323.2l10.25 17.8h-20.5z"/><path d="M565.1 336.8l10.25 17.8h-20.5z"/><path d="M548.5 350.2l10.25 17.8h-20.5z"/><path d="M533.3 362.7l10.25 17.8h-20.5z"/><path d="M519.7 373.9l10.25 17.8h-20.5z"/><path d="M507.4 383.6l10.25 17.8h-20.5z"/><path d="M496.0 392.3l10.25 17.8h-20.5z"/><path d="M484.8 400.9l10.25 17.8h-20.5z"/><path d="M475.7 408.5l10.25 17.8h-20.5z"/><path d="M467.5 415.0l10.25 17.8h-20.5z"/><path d="M460.2 421.6l10.25 17.8h-20.5z"/><path d="M453.4 427.6l10.25 17.8h-20.5z"/><path d="M447.5 433.1l10.25 17.8h-20.5z"/><path d="M442.6 438.0l10.25 17.8h-20.5z"/><path d="M438.7 442.3l10.25 17.8h-20.5z"/><path d="M435.6 446.0l10.25 17.8h-20.5z"/><path d="M433.1 449.0l10.25 17.8h-20.5z"/><path d="M430.9 451.5l10.25 17.8h-20.5z"/><path d="M428.8 453.9l10.25 17.8h-20.5z"/><path d="M426.9 456.1l10.25 17.8h-20.5z"/><path d="M425.1 458.2l10.25 17.8h-20.5z"/><path d="M423.5 460.2l10.25 17.8h-20.5z"/><path d="M422.0 462.2l10.25 17.8h-20.5z"/><path d="M420.5 464.0l10.25 17.8h-20.5z"/><path d="M419.1 465.9l10.25 17.8h-20.5z"/><path d="M417.8 467.7l10.25 17.8h-20.5z"/><path d="M416.5 469.4l10.25 17.8h-20.5z"/><path d="M415.3 471.1l10.25 17.8h-20.5z"/><path d="M414.2 472.8l10.25 17.8h-20.5z"/><path d="M413.1 474.5l10.25 17.8h-20.5z"/><path d="M412.1 476.1l10.25 17.8h-20.5z"/><path d="M411.1 477.8l10.25 17.8h-20.5z"/><path d="M410.1 479.4l10.25 17.8h-20.5z"/><path d="M409.1 481.0l10.25 17.8h-20.5z"/><path d="M408.1 482.6l10.25 17.8h-20.5z"/><path d="M407.1 484.1l10.25 17.8h-20.5z"/><path d="M406.1 485.7l10.25 17.8h-20.5z"/><path d="M405.2 487.2l10.25 17.8h-20.5z"/><path d="M404.3 488.7l10.25 17.8h-20.5z"/><path d="M403.4 490.2l10.25 17.8h-20.5z"/><path d="M402.4 491.6l10.25 17.8h-20.5z"/><path d="M401.5 493.0l10.25 17.8h-20.5z"/><path d="M400.5 494.3l10.25 17.8h-20.5z"/><path d="M399.4 495.5l10.25 17.8h-20.5z"/><path d="M398.2 496.6l10.25 17.8h-20.5z"/><path d="M397.0 497.7l10.25 17.8h-20.5z"/><path d="M395.7 498.7l10.25 17.8h-20.5z"/><path d="M394.4 499.6l10.25 17.8h-20.5z"/><path d="M393.1 500.4l10.25 17.8h-20.5z"/><path d="M391.7 501.2l10.25 17.8h-20.5z"/><path d="M390.2 501.8l10.25 17.8h-20.5z"/><path d="M388.7 502.4l10.25 17.8h-20.5z"/><path d="M387.3 503.0l10.25 17.8h-20.5z"/><path d="M385.7 503.5l10.25 17.8h-20.5z"/><path d="M384.2 503.9l10.25 17.8h-20.5z"/><path d="M382.7 504.3l10.25 17.8h-20.5z"/><path d="M381.2 504.7l10.25 17.8h-20.5z"/><path d="M379.6 505.0l10.25 17.8h-20.5z"/><path d="M378.1 505.3l10.25 17.8h-20.5z"/><path d="M376.5 505.6l10.25 17.8h-20.5z"/><path d="M375.0 505.9l10.25 17.8h-20.5z"/><path d="M373.4 506.2l10.25 17.8h-20.5z"/><path d="M371.9 506.4l10.25 17.8h-20.5z"/><path d="M370.3 506.7l10.25 17.8h-20.5z"/><path d="M368.8 506.9l10.25 17.8h-20.5z"/><path d="M367.2 507.0l10.25 17.8h-20.5z"/><path d="M365.6 507.2l10.25 17.8h-20.5z"/><path d="M364.1 507.3l10.25 17.8h-20.5z"/><path d="M362.5 507.4l10.25 17.8h-20.5z"/><path d="M360.9 507.5l10.25 17.8h-20.5z"/><path d="M359.4 507.6l10.25 17.8h-20.5z"/><path d="M357.8 507.6l10.25 17.8h-20.5z"/><path d="M356.3 507.7l10.25 17.8h-20.5z"/><path d="M354.7 507.8l10.25 17.8h-20.5z"/><path d="M353.1 507.8l10.25 17.8h-20.5z"/><path d="M351.6 507.9l10.25 17.8h-20.5z"/><path d="M350.0 508.0l10.25 17.8h-20.5z"/><path d="M348.5 508.0l10.25 17.8h-20.5z"/><path d="M346.9 508.1l10.25 17.8h-20.5z"/><path d="M345.4 508.1l10.25 17.8h-20.5z"/><path d="M343.8 508.1l10.25 17.8h-20.5z"/><path d="M342.3 508.1l10.25 17.8h-20.5z"/><path d="M340.7 508.2l10.25 17.8h-20.5z"/><path d="M339.2 508.3l10.25 17.8h-20.5z"/><path d="M337.6 508.4l10.25 17.8h-20.5z"/><path d="M336.1 508.5l10.25 17.8h-20.5z"/><path d="M334.6 508.7l10.25 17.8h-20.5z"/><path d="M333.0 508.9l10.25 17.8h-20.5z"/><path d="M331.5 509.1l10.25 17.8h-20.5z"/><path d="M330.0 509.3l10.25 17.8h-20.5z"/><path d="M328.5 509.5l10.25 17.8h-20.5z"/><path d="M326.9 509.8l10.25 17.8h-20.5z"/><path d="M325.4 510.0l10.25 17.8h-20.5z"/><path d="M323.9 510.3l10.25 17.8h-20.5z"/><path d="M322.4 510.6l10.25 17.8h-20.5z"/><path d="M320.9 510.9l10.25 17.8h-20.5z"/><path d="M319.4 511.2l10.25 17.8h-20.5z"/><path d="M317.9 511.5l10.25 17.8h-20.5z"/><path d="M316.4 511.8l10.25 17.8h-20.5z"/><path d="M314.9 512.1l10.25 17.8h-20.5z"/><path d="M313.4 512.5l10.25 17.8h-20.5z"/><path d="M311.9 512.8l10.25 17.8h-20.5z"/><path d="M310.4 513.2l10.25 17.8h-20.5z"/><path d="M309.0 513.6l10.25 17.8h-20.5z"/><path d="M307.5 514.1l10.25 17.8h-20.5z"/><path d="M306.1 514.5l10.25 17.8h-20.5z"/><path d="M304.6 515.0l10.25 17.8h-20.5z"/><path d="M303.2 515.5l10.25 17.8h-20.5z"/><path d="M301.7 516.0l10.25 17.8h-20.5z"/><path d="M300.3 516.5l10.25 17.8h-20.5z"/><path d="M298.9 517.0l10.25 17.8h-20.5z"/><path d="M297.5 517.6l10.25 17.8h-20.5z"/><path d="M296.1 518.1l10.25 17.8h-20.5z"/><path d="M294.7 518.7l10.25 17.8h-20.5z"/><path d="M293.3 519.3l10.25 17.8h-20.5z"/><path d="M291.9 519.9l10.25 17.8h-20.5z"/><path d="M290.5 520.5l10.25 17.8h-20.5z"/><path d="M289.2 521.1l10.25 17.8h-20.5z"/><path d="M287.8 521.8l10.25 17.8h-20.5z"/><path d="M286.5 522.4l10.25 17.8h-20.5z"/><path d="M285.1 523.1l10.25 17.8h-20.5z"/><path d="M283.8 523.7l10.25 17.8h-20.5z"/><path d="M282.4 524.4l10.25 17.8h-20.5z"/><path d="M281.0 525.1l10.25 17.8h-20.5z"/><path d="M279.7 525.8l10.25 17.8h-20.5z"/><path d="M278.3 526.5l10.25 17.8h-20.5z"/><path d="M277.0 527.2l10.25 17.8h-20.5z"/><path d="M275.6 528.0l10.25 17.8h-20.5z"/><path d="M274.2 528.7l10.25 17.8h-20.5z"/><path d="M272.9 529.5l10.25 17.8h-20.5z"/><path d="M271.5 530.2l10.25 17.8h-20.5z"/><path d="M270.1 531.0l10.25 17.8h-20.5z"/><path d="M268.7 531.8l10.25 17.8h-20.5z"/><path d="M267.3 532.7l10.25 17.8h-20.5z"/><path d="M265.9 533.6l10.25 17.8h-20.5z"/><path d="M264.4 534.5l10.25 17.8h-20.5z"/><path d="M262.9 535.4l10.25 17.8h-20.5z"/><path d="M261.4 536.4l10.25 17.8h-20.5z"/><path d="M259.8 537.5l10.25 17.8h-20.5z"/><path d="M258.2 538.5l10.25 17.8h-20.5z"/><path d="M256.5 539.5l10.25 17.8h-20.5z"/><path d="M254.7 540.6l10.25 17.8h-20.5z"/><path d="M252.9 541.7l10.25 17.8h-20.5z"/><path d="M251.0 542.9l10.25 17.8h-20.5z"/><path d="M249.0 544.1l10.25 17.8h-20.5z"/><path d="M248.0 544.7l10.25 17.8h-20.5z"/><path d="M244.8 546.6l10.25 17.8h-20.5z"/></g>
<g fill="none" stroke="#000" stroke-width="4.5" stroke-linecap="round">
<path d="M90.00 18.20 H1015.40 V664.15 H90.00 Z" stroke-linejoin="miter" stroke-width="4.6"/>
<path d="M90.0 203.1 H101.4"/>
<path d="M90.0 387.4 H101.4"/>
<path d="M90.0 572.2 H101.4"/>
<path d="M90.0 110.8 H95.6"/>
<path d="M90.0 295.2 H95.6"/>
<path d="M90.0 479.6 H95.6"/>
<path d="M205.5 664.1 V653.2"/>
<path d="M436.8 664.1 V653.2"/>
<path d="M667.9 664.1 V653.2"/>
<path d="M899.7 664.1 V653.2"/>
<path d="M321.2 664.1 V659.6"/>
<path d="M552.3 664.1 V659.6"/>
<path d="M783.8 664.1 V659.6"/>
</g>
<g font-family="'Liberation Sans', Arial, Helvetica, sans-serif" font-weight="bold" fill="#000" stroke="#000" stroke-width="1.2" stroke-linejoin="round">
<g font-size="34" letter-spacing="-3.6">
<text x="44.0" y="25.0">6k</text>
<text x="44.0" y="210.3">4k</text>
<text x="44.0" y="395.0">2k</text>
<text x="60.2" y="580.3">0</text>
</g>
<g font-size="34" letter-spacing="-3.6">
<text x="197.2" y="699.8">0</text>
<text x="421.4" y="699.8">2k</text>
<text x="652.0" y="699.8">4k</text>
<text x="884.0" y="699.8">6k</text>
</g>
<g font-size="40" stroke-width="1.3">
<text x="186.5" y="75.9" letter-spacing="-2.6">As-prepared</text>
<text x="193.8" y="127.9" letter-spacing="-2.6">M-200</text>
<text x="193.8" y="180.6" letter-spacing="-2.6">M-300</text>
<text x="193.8" y="233.2" letter-spacing="-2.6">M-400</text>
<text x="193.8" y="284.7" letter-spacing="-2.6">M-500</text>
</g>
</g>
<g fill="#fff" stroke="#ff0000" stroke-width="4.6" stroke-linejoin="round"><rect x="149.8" y="60.2" width="14" height="14"/></g>
<g fill="#fff" stroke="#808000" stroke-width="4.85" stroke-linejoin="round"><path d="M156.6 107.4l10.25 17.8h-20.5z"/></g>
<g fill="#fff" stroke="#0000ff" stroke-width="4.8"><circle cx="155.2" cy="171.8" r="8.3"/></g>
<g fill="#fff" stroke="#800080" stroke-width="4.8" stroke-linejoin="round"><path d="M154.0 223.6m0.00 -8.95l2.22 6.84l7.19 0.00l-5.82 4.23l2.22 6.84l-5.82 -4.23l-5.82 4.23l2.22 -6.84l-5.82 -4.23l7.19 -0.00z"/></g>
<g fill="none" stroke="#000000" stroke-width="4.8" stroke-linecap="round"><path d="M145.5 274.3h18.4M154.7 265.3v18"/></g>
<g font-family="'Liberation Serif', 'DejaVu Serif', 'Times New Roman', serif" fill="#000" stroke="#000" stroke-width="0.35" font-size="44">
<text x="543.9" y="739.6">ε</text>
<text transform="translate(559.7,748.1) scale(0.8,1)" font-size="50" stroke="none">′</text>
<g transform="translate(25.9,382.2) rotate(-90)">
<text x="0" y="0">ε</text>
<text transform="translate(15.8,1.2) scale(0.79,1)" font-size="40" stroke="none">″</text>
</g>
</g>
<rect x="642.2" y="325.3" width="358.6" height="277.8" fill="#fff"/>
<g fill="#fff" stroke="#ff0000" stroke-width="2"><rect x="992.7" y="328.8" width="5.8" height="5.8"/><rect x="982.7" y="339.9" width="5.8" height="5.8"/><rect x="973.8" y="350.3" width="5.8" height="5.8"/><rect x="966.5" y="359.2" width="5.8" height="5.8"/><rect x="959.8" y="367.7" width="5.8" height="5.8"/><rect x="954.1" y="375.5" width="5.8" height="5.8"/><rect x="948.7" y="382.8" width="5.8" height="5.8"/><rect x="943.8" y="389.5" width="5.8" height="5.8"/><rect x="939.4" y="395.7" width="5.8" height="5.8"/><rect x="935.4" y="401.5" width="5.8" height="5.8"/><rect x="931.8" y="406.8" width="5.8" height="5.8"/><rect x="928.7" y="411.7" width="5.8" height="5.8"/><rect x="925.6" y="416.1" width="5.8" height="5.8"/><rect x="922.9" y="420.6" width="5.8" height="5.8"/><rect x="920.0" y="424.6" width="5.8" height="5.8"/><rect x="917.3" y="428.4" width="5.8" height="5.8"/><rect x="914.8" y="432.3" width="5.8" height="5.8"/><rect x="912.4" y="435.8" width="5.8" height="5.8"/><rect x="910.0" y="439.2" width="5.8" height="5.8"/><rect x="907.5" y="442.2" width="5.8" height="5.8"/><rect x="904.9" y="445.1" width="5.8" height="5.8"/><rect x="902.2" y="447.7" width="5.8" height="5.8"/><rect x="899.4" y="450.0" width="5.8" height="5.8"/><rect x="896.4" y="452.1" width="5.8" height="5.8"/><rect x="893.3" y="453.9" width="5.8" height="5.8"/><rect x="890.1" y="455.6" width="5.8" height="5.8"/><rect x="886.7" y="456.9" width="5.8" height="5.8"/><rect x="883.2" y="457.9" width="5.8" height="5.8"/><rect x="879.6" y="458.8" width="5.8" height="5.8"/><rect x="875.9" y="459.6" width="5.8" height="5.8"/><rect x="872.1" y="460.2" width="5.8" height="5.8"/><rect x="868.3" y="460.7" width="5.8" height="5.8"/><rect x="864.4" y="461.3" width="5.8" height="5.8"/><rect x="860.6" y="461.8" width="5.8" height="5.8"/><rect x="856.8" y="462.3" width="5.8" height="5.8"/><rect x="853.0" y="462.8" width="5.8" height="5.8"/><rect x="849.2" y="463.3" width="5.8" height="5.8"/><rect x="845.4" y="463.8" width="5.8" height="5.8"/><rect x="841.6" y="464.4" width="5.8" height="5.8"/><rect x="837.8" y="465.0" width="5.8" height="5.8"/><rect x="834.0" y="465.6" width="5.8" height="5.8"/><rect x="830.2" y="466.2" width="5.8" height="5.8"/><rect x="826.5" y="467.0" width="5.8" height="5.8"/><rect x="822.8" y="467.9" width="5.8" height="5.8"/><rect x="819.2" y="468.8" width="5.8" height="5.8"/><rect x="815.6" y="469.8" width="5.8" height="5.8"/><rect x="812.1" y="471.0" width="5.8" height="5.8"/><rect x="808.7" y="472.1" width="5.8" height="5.8"/><rect x="805.2" y="473.3" width="5.8" height="5.8"/><rect x="801.8" y="474.5" width="5.8" height="5.8"/><rect x="798.5" y="475.7" width="5.8" height="5.8"/><rect x="795.2" y="477.0" width="5.8" height="5.8"/><rect x="791.9" y="478.2" width="5.8" height="5.8"/><rect x="788.8" y="479.6" width="5.8" height="5.8"/><rect x="785.7" y="481.0" width="5.8" height="5.8"/><rect x="782.8" y="482.4" width="5.8" height="5.8"/><rect x="779.9" y="483.8" width="5.8" height="5.8"/><rect x="777.2" y="485.2" width="5.8" height="5.8"/><rect x="774.6" y="486.6" width="5.8" height="5.8"/><rect x="772.1" y="488.0" width="5.8" height="5.8"/><rect x="769.7" y="489.4" width="5.8" height="5.8"/><rect x="767.5" y="490.7" width="5.8" height="5.8"/><rect x="765.4" y="492.0" width="5.8" height="5.8"/><rect x="763.4" y="493.3" width="5.8" height="5.8"/><rect x="761.4" y="494.6" width="5.8" height="5.8"/><rect x="759.6" y="495.8" width="5.8" height="5.8"/><rect x="757.8" y="497.0" width="5.8" height="5.8"/><rect x="756.1" y="498.2" width="5.8" height="5.8"/><rect x="754.5" y="499.4" width="5.8" height="5.8"/><rect x="752.9" y="500.5" width="5.8" height="5.8"/><rect x="751.4" y="501.6" width="5.8" height="5.8"/><rect x="749.9" y="502.7" width="5.8" height="5.8"/><rect x="748.5" y="503.8" width="5.8" height="5.8"/><rect x="747.1" y="504.9" width="5.8" height="5.8"/><rect x="745.8" y="505.9" width="5.8" height="5.8"/><rect x="744.5" y="506.9" width="5.8" height="5.8"/><rect x="743.2" y="507.9" width="5.8" height="5.8"/><rect x="742.0" y="508.9" width="5.8" height="5.8"/><rect x="740.8" y="509.9" width="5.8" height="5.8"/><rect x="739.7" y="510.8" width="5.8" height="5.8"/><rect x="738.6" y="511.8" width="5.8" height="5.8"/><rect x="737.5" y="512.7" width="5.8" height="5.8"/><rect x="736.4" y="513.6" width="5.8" height="5.8"/><rect x="735.3" y="514.6" width="5.8" height="5.8"/><rect x="734.2" y="515.5" width="5.8" height="5.8"/><rect x="733.2" y="516.4" width="5.8" height="5.8"/><rect x="732.1" y="517.3" width="5.8" height="5.8"/><rect x="731.1" y="518.2" width="5.8" height="5.8"/><rect x="730.1" y="519.0" width="5.8" height="5.8"/><rect x="729.1" y="519.9" width="5.8" height="5.8"/><rect x="728.1" y="520.7" width="5.8" height="5.8"/><rect x="727.1" y="521.5" width="5.8" height="5.8"/><rect x="726.1" y="522.4" width="5.8" height="5.8"/><rect x="725.1" y="523.2" width="5.8" height="5.8"/><rect x="724.1" y="524.0" width="5.8" height="5.8"/><rect x="723.0" y="524.8" width="5.8" height="5.8"/><rect x="722.4" y="525.3" width="5.8" height="5.8"/><rect x="719.4" y="527.6" width="5.8" height="5.8"/></g>
<g fill="#fff" stroke="#0000ff" stroke-width="2.1"><circle cx="952.7" cy="365.7" r="3.5"/><circle cx="934.5" cy="379.9" r="3.5"/><circle cx="917.2" cy="392.8" r="3.5"/><circle cx="902.3" cy="405.7" r="3.5"/><circle cx="887.8" cy="417.3" r="3.5"/><circle cx="874.5" cy="428.4" r="3.5"/><circle cx="862.7" cy="437.7" r="3.5"/><circle cx="851.6" cy="446.6" r="3.5"/><circle cx="841.1" cy="455.0" r="3.5"/><circle cx="832.2" cy="462.8" r="3.5"/><circle cx="824.0" cy="469.5" r="3.5"/><circle cx="816.4" cy="475.9" r="3.5"/><circle cx="808.8" cy="481.8" r="3.5"/><circle cx="802.1" cy="487.2" r="3.5"/><circle cx="796.2" cy="492.2" r="3.5"/><circle cx="791.0" cy="496.7" r="3.5"/><circle cx="786.7" cy="501.2" r="3.5"/><circle cx="783.1" cy="505.4" r="3.5"/><circle cx="780.0" cy="509.4" r="3.5"/><circle cx="777.3" cy="513.1" r="3.5"/><circle cx="774.8" cy="516.6" r="3.5"/><circle cx="772.6" cy="519.9" r="3.5"/><circle cx="770.5" cy="522.9" r="3.5"/><circle cx="768.6" cy="525.7" r="3.5"/><circle cx="766.8" cy="528.3" r="3.5"/><circle cx="765.1" cy="530.7" r="3.5"/><circle cx="763.5" cy="533.0" r="3.5"/><circle cx="762.0" cy="535.0" r="3.5"/><circle cx="760.6" cy="536.9" r="3.5"/><circle cx="759.2" cy="538.7" r="3.5"/><circle cx="757.9" cy="540.3" r="3.5"/><circle cx="756.6" cy="541.8" r="3.5"/><circle cx="755.2" cy="543.3" r="3.5"/><circle cx="753.9" cy="544.6" r="3.5"/><circle cx="752.6" cy="545.8" r="3.5"/><circle cx="751.4" cy="547.0" r="3.5"/><circle cx="750.1" cy="548.1" r="3.5"/><circle cx="748.9" cy="549.2" r="3.5"/><circle cx="747.6" cy="550.1" r="3.5"/><circle cx="746.3" cy="550.9" r="3.5"/><circle cx="745.1" cy="551.7" r="3.5"/><circle cx="743.8" cy="552.4" r="3.5"/><circle cx="742.5" cy="553.1" r="3.5"/><circle cx="741.2" cy="553.7" r="3.5"/><circle cx="739.9" cy="554.3" r="3.5"/><circle cx="738.6" cy="554.9" r="3.5"/><circle cx="737.4" cy="555.5" r="3.5"/><circle cx="736.1" cy="556.0" r="3.5"/><circle cx="734.8" cy="556.4" r="3.5"/><circle cx="733.6" cy="556.9" r="3.5"/><circle cx="732.3" cy="557.3" r="3.5"/><circle cx="731.1" cy="557.7" r="3.5"/><circle cx="729.8" cy="558.0" r="3.5"/><circle cx="728.6" cy="558.3" r="3.5"/><circle cx="727.4" cy="558.6" r="3.5"/><circle cx="726.2" cy="558.9" r="3.5"/><circle cx="725.0" cy="559.1" r="3.5"/><circle cx="723.8" cy="559.3" r="3.5"/><circle cx="722.6" cy="559.4" r="3.5"/><circle cx="721.3" cy="559.5" r="3.5"/><circle cx="720.0" cy="559.4" r="3.5"/><circle cx="718.6" cy="559.4" r="3.5"/><circle cx="717.2" cy="559.5" r="3.5"/><circle cx="715.7" cy="559.7" r="3.5"/><circle cx="714.2" cy="559.9" r="3.5"/><circle cx="712.7" cy="560.3" r="3.5"/><circle cx="711.3" cy="560.6" r="3.5"/><circle cx="709.8" cy="561.0" r="3.5"/><circle cx="708.4" cy="561.5" r="3.5"/><circle cx="707.0" cy="562.0" r="3.5"/><circle cx="705.6" cy="562.5" r="3.5"/><circle cx="704.2" cy="563.0" r="3.5"/><circle cx="702.8" cy="563.5" r="3.5"/><circle cx="701.3" cy="564.0" r="3.5"/><circle cx="699.9" cy="564.5" r="3.5"/><circle cx="698.5" cy="565.1" r="3.5"/><circle cx="697.1" cy="565.6" r="3.5"/><circle cx="695.7" cy="566.1" r="3.5"/><circle cx="694.4" cy="566.7" r="3.5"/><circle cx="693.0" cy="567.3" r="3.5"/><circle cx="691.6" cy="567.8" r="3.5"/><circle cx="690.2" cy="568.4" r="3.5"/><circle cx="688.8" cy="569.0" r="3.5"/><circle cx="687.5" cy="569.7" r="3.5"/><circle cx="686.2" cy="570.4" r="3.5"/><circle cx="686.0" cy="570.5" r="3.5"/><circle cx="677.8" cy="575.4" r="3.5"/></g>
<g fill="#fff" stroke="#800080" stroke-width="2.2" stroke-linejoin="round"><path d="M957.4 358.8m0.00 -3.62l0.94 2.71l2.86 0.06l-2.28 1.73l0.83 2.74l-2.35 -1.64l-2.35 1.64l0.83 -2.74l-2.28 -1.73l2.86 -0.06z"/><path d="M937.8 373.9m0.00 -3.62l0.94 2.71l2.86 0.06l-2.28 1.73l0.83 2.74l-2.35 -1.64l-2.35 1.64l0.83 -2.74l-2.28 -1.73l2.86 -0.06z"/><path d="M919.6 387.3m0.00 -3.62l0.94 2.71l2.86 0.06l-2.28 1.73l0.83 2.74l-2.35 -1.64l-2.35 1.64l0.83 -2.74l-2.28 -1.73l2.86 -0.06z"/><path d="M902.3 400.6m0.00 -3.62l0.94 2.71l2.86 0.06l-2.28 1.73l0.83 2.74l-2.35 -1.64l-2.35 1.64l0.83 -2.74l-2.28 -1.73l2.86 -0.06z"/><path d="M886.3 412.8m0.00 -3.62l0.94 2.71l2.86 0.06l-2.28 1.73l0.83 2.74l-2.35 -1.64l-2.35 1.64l0.83 -2.74l-2.28 -1.73l2.86 -0.06z"/><path d="M871.6 424.4m0.00 -3.62l0.94 2.71l2.86 0.06l-2.28 1.73l0.83 2.74l-2.35 -1.64l-2.35 1.64l0.83 -2.74l-2.28 -1.73l2.86 -0.06z"/><path d="M858.9 435.0m0.00 -3.62l0.94 2.71l2.86 0.06l-2.28 1.73l0.83 2.74l-2.35 -1.64l-2.35 1.64l0.83 -2.74l-2.28 -1.73l2.86 -0.06z"/><path d="M846.7 443.9m0.00 -3.62l0.94 2.71l2.86 0.06l-2.28 1.73l0.83 2.74l-2.35 -1.64l-2.35 1.64l0.83 -2.74l-2.28 -1.73l2.86 -0.06z"/><path d="M835.6 452.8m0.00 -3.62l0.94 2.71l2.86 0.06l-2.28 1.73l0.83 2.74l-2.35 -1.64l-2.35 1.64l0.83 -2.74l-2.28 -1.73l2.86 -0.06z"/><path d="M824.0 461.7m0.00 -3.62l0.94 2.71l2.86 0.06l-2.28 1.73l0.83 2.74l-2.35 -1.64l-2.35 1.64l0.83 -2.74l-2.28 -1.73l2.86 -0.06z"/><path d="M812.8 469.6m0.00 -3.62l0.94 2.71l2.86 0.06l-2.28 1.73l0.83 2.74l-2.35 -1.64l-2.35 1.64l0.83 -2.74l-2.28 -1.73l2.86 -0.06z"/><path d="M803.1 476.7m0.00 -3.62l0.94 2.71l2.86 0.06l-2.28 1.73l0.83 2.74l-2.35 -1.64l-2.35 1.64l0.83 -2.74l-2.28 -1.73l2.86 -0.06z"/><path d="M794.2 483.3m0.00 -3.62l0.94 2.71l2.86 0.06l-2.28 1.73l0.83 2.74l-2.35 -1.64l-2.35 1.64l0.83 -2.74l-2.28 -1.73l2.86 -0.06z"/><path d="M786.1 489.4m0.00 -3.62l0.94 2.71l2.86 0.06l-2.28 1.73l0.83 2.74l-2.35 -1.64l-2.35 1.64l0.83 -2.74l-2.28 -1.73l2.86 -0.06z"/><path d="M778.8 495.1m0.00 -3.62l0.94 2.71l2.86 0.06l-2.28 1.73l0.83 2.74l-2.35 -1.64l-2.35 1.64l0.83 -2.74l-2.28 -1.73l2.86 -0.06z"/><path d="M772.0 500.3m0.00 -3.62l0.94 2.71l2.86 0.06l-2.28 1.73l0.83 2.74l-2.35 -1.64l-2.35 1.64l0.83 -2.74l-2.28 -1.73l2.86 -0.06z"/><path d="M765.9 505.1m0.00 -3.62l0.94 2.71l2.86 0.06l-2.28 1.73l0.83 2.74l-2.35 -1.64l-2.35 1.64l0.83 -2.74l-2.28 -1.73l2.86 -0.06z"/><path d="M760.2 509.6m0.00 -3.62l0.94 2.71l2.86 0.06l-2.28 1.73l0.83 2.74l-2.35 -1.64l-2.35 1.64l0.83 -2.74l-2.28 -1.73l2.86 -0.06z"/><path d="M754.9 513.7m0.00 -3.62l0.94 2.71l2.86 0.06l-2.28 1.73l0.83 2.74l-2.35 -1.64l-2.35 1.64l0.83 -2.74l-2.28 -1.73l2.86 -0.06z"/><path d="M750.0 517.5m0.00 -3.62l0.94 2.71l2.86 0.06l-2.28 1.73l0.83 2.74l-2.35 -1.64l-2.35 1.64l0.83 -2.74l-2.28 -1.73l2.86 -0.06z"/><path d="M745.6 521.1m0.00 -3.62l0.94 2.71l2.86 0.06l-2.28 1.73l0.83 2.74l-2.35 -1.64l-2.35 1.64l0.83 -2.74l-2.28 -1.73l2.86 -0.06z"/><path d="M741.6 524.5m0.00 -3.62l0.94 2.71l2.86 0.06l-2.28 1.73l0.83 2.74l-2.35 -1.64l-2.35 1.64l0.83 -2.74l-2.28 -1.73l2.86 -0.06z"/><path d="M738.1 527.8m0.00 -3.62l0.94 2.71l2.86 0.06l-2.28 1.73l0.83 2.74l-2.35 -1.64l-2.35 1.64l0.83 -2.74l-2.28 -1.73l2.86 -0.06z"/><path d="M735.1 531.0m0.00 -3.62l0.94 2.71l2.86 0.06l-2.28 1.73l0.83 2.74l-2.35 -1.64l-2.35 1.64l0.83 -2.74l-2.28 -1.73l2.86 -0.06z"/><path d="M732.5 534.2m0.00 -3.62l0.94 2.71l2.86 0.06l-2.28 1.73l0.83 2.74l-2.35 -1.64l-2.35 1.64l0.83 -2.74l-2.28 -1.73l2.86 -0.06z"/><path d="M730.2 537.3m0.00 -3.62l0.94 2.71l2.86 0.06l-2.28 1.73l0.83 2.74l-2.35 -1.64l-2.35 1.64l0.83 -2.74l-2.28 -1.73l2.86 -0.06z"/><path d="M728.4 540.4m0.00 -3.62l0.94 2.71l2.86 0.06l-2.28 1.73l0.83 2.74l-2.35 -1.64l-2.35 1.64l0.83 -2.74l-2.28 -1.73l2.86 -0.06z"/><path d="M726.8 543.3m0.00 -3.62l0.94 2.71l2.86 0.06l-2.28 1.73l0.83 2.74l-2.35 -1.64l-2.35 1.64l0.83 -2.74l-2.28 -1.73l2.86 -0.06z"/><path d="M725.6 546.2m0.00 -3.62l0.94 2.71l2.86 0.06l-2.28 1.73l0.83 2.74l-2.35 -1.64l-2.35 1.64l0.83 -2.74l-2.28 -1.73l2.86 -0.06z"/><path d="M724.6 548.9m0.00 -3.62l0.94 2.71l2.86 0.06l-2.28 1.73l0.83 2.74l-2.35 -1.64l-2.35 1.64l0.83 -2.74l-2.28 -1.73l2.86 -0.06z"/><path d="M723.5 551.5m0.00 -3.62l0.94 2.71l2.86 0.06l-2.28 1.73l0.83 2.74l-2.35 -1.64l-2.35 1.64l0.83 -2.74l-2.28 -1.73l2.86 -0.06z"/><path d="M722.6 553.9m0.00 -3.62l0.94 2.71l2.86 0.06l-2.28 1.73l0.83 2.74l-2.35 -1.64l-2.35 1.64l0.83 -2.74l-2.28 -1.73l2.86 -0.06z"/><path d="M721.8 556.2m0.00 -3.62l0.94 2.71l2.86 0.06l-2.28 1.73l0.83 2.74l-2.35 -1.64l-2.35 1.64l0.83 -2.74l-2.28 -1.73l2.86 -0.06z"/><path d="M720.8 558.3m0.00 -3.62l0.94 2.71l2.86 0.06l-2.28 1.73l0.83 2.74l-2.35 -1.64l-2.35 1.64l0.83 -2.74l-2.28 -1.73l2.86 -0.06z"/><path d="M719.5 560.1m0.00 -3.62l0.94 2.71l2.86 0.06l-2.28 1.73l0.83 2.74l-2.35 -1.64l-2.35 1.64l0.83 -2.74l-2.28 -1.73l2.86 -0.06z"/><path d="M717.8 561.1m0.00 -3.62l0.94 2.71l2.86 0.06l-2.28 1.73l0.83 2.74l-2.35 -1.64l-2.35 1.64l0.83 -2.74l-2.28 -1.73l2.86 -0.06z"/><path d="M715.9 561.5m0.00 -3.62l0.94 2.71l2.86 0.06l-2.28 1.73l0.83 2.74l-2.35 -1.64l-2.35 1.64l0.83 -2.74l-2.28 -1.73l2.86 -0.06z"/><path d="M714.1 561.7m0.00 -3.62l0.94 2.71l2.86 0.06l-2.28 1.73l0.83 2.74l-2.35 -1.64l-2.35 1.64l0.83 -2.74l-2.28 -1.73l2.86 -0.06z"/><path d="M712.3 561.9m0.00 -3.62l0.94 2.71l2.86 0.06l-2.28 1.73l0.83 2.74l-2.35 -1.64l-2.35 1.64l0.83 -2.74l-2.28 -1.73l2.86 -0.06z"/><path d="M710.5 562.1m0.00 -3.62l0.94 2.71l2.86 0.06l-2.28 1.73l0.83 2.74l-2.35 -1.64l-2.35 1.64l0.83 -2.74l-2.28 -1.73l2.86 -0.06z"/><path d="M708.8 562.4m0.00 -3.62l0.94 2.71l2.86 0.06l-2.28 1.73l0.83 2.74l-2.35 -1.64l-2.35 1.64l0.83 -2.74l-2.28 -1.73l2.86 -0.06z"/><path d="M707.2 562.7m0.00 -3.62l0.94 2.71l2.86 0.06l-2.28 1.73l0.83 2.74l-2.35 -1.64l-2.35 1.64l0.83 -2.74l-2.28 -1.73l2.86 -0.06z"/><path d="M705.6 563.0m0.00 -3.62l0.94 2.71l2.86 0.06l-2.28 1.73l0.83 2.74l-2.35 -1.64l-2.35 1.64l0.83 -2.74l-2.28 -1.73l2.86 -0.06z"/><path d="M704.1 563.3m0.00 -3.62l0.94 2.71l2.86 0.06l-2.28 1.73l0.83 2.74l-2.35 -1.64l-2.35 1.64l0.83 -2.74l-2.28 -1.73l2.86 -0.06z"/><path d="M702.6 563.6m0.00 -3.62l0.94 2.71l2.86 0.06l-2.28 1.73l0.83 2.74l-2.35 -1.64l-2.35 1.64l0.83 -2.74l-2.28 -1.73l2.86 -0.06z"/><path d="M701.1 564.0m0.00 -3.62l0.94 2.71l2.86 0.06l-2.28 1.73l0.83 2.74l-2.35 -1.64l-2.35 1.64l0.83 -2.74l-2.28 -1.73l2.86 -0.06z"/><path d="M699.8 564.4m0.00 -3.62l0.94 2.71l2.86 0.06l-2.28 1.73l0.83 2.74l-2.35 -1.64l-2.35 1.64l0.83 -2.74l-2.28 -1.73l2.86 -0.06z"/><path d="M698.4 564.8m0.00 -3.62l0.94 2.71l2.86 0.06l-2.28 1.73l0.83 2.74l-2.35 -1.64l-2.35 1.64l0.83 -2.74l-2.28 -1.73l2.86 -0.06z"/><path d="M697.1 565.2m0.00 -3.62l0.94 2.71l2.86 0.06l-2.28 1.73l0.83 2.74l-2.35 -1.64l-2.35 1.64l0.83 -2.74l-2.28 -1.73l2.86 -0.06z"/><path d="M695.9 565.7m0.00 -3.62l0.94 2.71l2.86 0.06l-2.28 1.73l0.83 2.74l-2.35 -1.64l-2.35 1.64l0.83 -2.74l-2.28 -1.73l2.86 -0.06z"/><path d="M694.7 566.1m0.00 -3.62l0.94 2.71l2.86 0.06l-2.28 1.73l0.83 2.74l-2.35 -1.64l-2.35 1.64l0.83 -2.74l-2.28 -1.73l2.86 -0.06z"/><path d="M693.5 566.6m0.00 -3.62l0.94 2.71l2.86 0.06l-2.28 1.73l0.83 2.74l-2.35 -1.64l-2.35 1.64l0.83 -2.74l-2.28 -1.73l2.86 -0.06z"/><path d="M692.4 567.0m0.00 -3.62l0.94 2.71l2.86 0.06l-2.28 1.73l0.83 2.74l-2.35 -1.64l-2.35 1.64l0.83 -2.74l-2.28 -1.73l2.86 -0.06z"/><path d="M691.3 567.5m0.00 -3.62l0.94 2.71l2.86 0.06l-2.28 1.73l0.83 2.74l-2.35 -1.64l-2.35 1.64l0.83 -2.74l-2.28 -1.73l2.86 -0.06z"/><path d="M690.2 567.9m0.00 -3.62l0.94 2.71l2.86 0.06l-2.28 1.73l0.83 2.74l-2.35 -1.64l-2.35 1.64l0.83 -2.74l-2.28 -1.73l2.86 -0.06z"/><path d="M689.2 568.4m0.00 -3.62l0.94 2.71l2.86 0.06l-2.28 1.73l0.83 2.74l-2.35 -1.64l-2.35 1.64l0.83 -2.74l-2.28 -1.73l2.86 -0.06z"/><path d="M688.2 568.8m0.00 -3.62l0.94 2.71l2.86 0.06l-2.28 1.73l0.83 2.74l-2.35 -1.64l-2.35 1.64l0.83 -2.74l-2.28 -1.73l2.86 -0.06z"/><path d="M687.3 569.4m0.00 -3.62l0.94 2.71l2.86 0.06l-2.28 1.73l0.83 2.74l-2.35 -1.64l-2.35 1.64l0.83 -2.74l-2.28 -1.73l2.86 -0.06z"/><path d="M686.4 570.0m0.00 -3.62l0.94 2.71l2.86 0.06l-2.28 1.73l0.83 2.74l-2.35 -1.64l-2.35 1.64l0.83 -2.74l-2.28 -1.73l2.86 -0.06z"/><path d="M685.4 570.5m0.00 -3.62l0.94 2.71l2.86 0.06l-2.28 1.73l0.83 2.74l-2.35 -1.64l-2.35 1.64l0.83 -2.74l-2.28 -1.73l2.86 -0.06z"/><path d="M685.0 570.8m0.00 -3.62l0.94 2.71l2.86 0.06l-2.28 1.73l0.83 2.74l-2.35 -1.64l-2.35 1.64l0.83 -2.74l-2.28 -1.73l2.86 -0.06z"/><path d="M681.2 573.0m0.00 -3.62l0.94 2.71l2.86 0.06l-2.28 1.73l0.83 2.74l-2.35 -1.64l-2.35 1.64l0.83 -2.74l-2.28 -1.73l2.86 -0.06z"/></g>
<g fill="none" stroke="#000000" stroke-width="2" stroke-linecap="round"><path d="M964.3 349.5h8.4M968.5 345.1v8.8"/><path d="M944.3 364.4h8.4M948.5 360.0v8.8"/><path d="M927.0 379.5h8.4M931.2 375.1v8.8"/><path d="M909.2 392.4h8.4M913.4 388.0v8.8"/><path d="M893.0 405.0h8.4M897.2 400.6v8.8"/><path d="M878.1 416.8h8.4M882.3 412.4v8.8"/><path d="M864.0 427.3h8.4M868.2 422.9v8.8"/><path d="M851.4 436.2h8.4M855.6 431.8v8.8"/><path d="M839.8 445.0h8.4M844.0 440.6v8.8"/><path d="M829.1 454.0h8.4M833.3 449.6v8.8"/><path d="M819.1 461.7h8.4M823.3 457.3v8.8"/><path d="M809.8 468.4h8.4M814.0 464.0v8.8"/><path d="M801.4 474.6h8.4M805.6 470.2v8.8"/><path d="M793.6 480.6h8.4M797.8 476.2v8.8"/><path d="M785.6 486.6h8.4M789.8 482.2v8.8"/><path d="M778.3 492.3h8.4M782.5 487.9v8.8"/><path d="M771.4 497.6h8.4M775.6 493.2v8.8"/><path d="M765.1 502.7h8.4M769.3 498.3v8.8"/><path d="M759.3 507.4h8.4M763.5 503.0v8.8"/><path d="M753.9 511.7h8.4M758.1 507.3v8.8"/><path d="M748.9 515.8h8.4M753.1 511.4v8.8"/><path d="M744.4 519.4h8.4M748.6 515.0v8.8"/><path d="M740.3 522.6h8.4M744.5 518.2v8.8"/><path d="M736.6 525.6h8.4M740.8 521.2v8.8"/><path d="M733.1 528.4h8.4M737.3 524.0v8.8"/><path d="M729.8 530.8h8.4M734.0 526.4v8.8"/><path d="M726.7 533.1h8.4M730.9 528.7v8.8"/><path d="M723.7 535.2h8.4M727.9 530.8v8.8"/><path d="M720.9 537.2h8.4M725.1 532.8v8.8"/><path d="M718.2 539.1h8.4M722.4 534.7v8.8"/><path d="M715.8 540.9h8.4M720.0 536.5v8.8"/><path d="M713.4 542.7h8.4M717.6 538.3v8.8"/><path d="M711.2 544.4h8.4M715.4 540.0v8.8"/><path d="M709.1 546.1h8.4M713.3 541.7v8.8"/><path d="M707.2 547.6h8.4M711.4 543.2v8.8"/><path d="M705.3 549.2h8.4M709.5 544.8v8.8"/><path d="M703.5 550.6h8.4M707.7 546.2v8.8"/><path d="M701.8 552.0h8.4M706.0 547.6v8.8"/><path d="M700.1 553.3h8.4M704.3 548.9v8.8"/><path d="M698.6 554.6h8.4M702.8 550.2v8.8"/><path d="M697.0 555.9h8.4M701.2 551.5v8.8"/><path d="M695.6 557.1h8.4M699.8 552.7v8.8"/><path d="M694.1 558.3h8.4M698.3 553.9v8.8"/><path d="M692.8 559.5h8.4M697.0 555.1v8.8"/><path d="M691.5 560.6h8.4M695.7 556.2v8.8"/><path d="M691.2 560.8h8.4M695.4 556.4v8.8"/></g>
<g fill="#fff" stroke="#808000" stroke-width="2.2" stroke-linejoin="round"><path d="M948.3 364.0l4.2 7.8h-8.4z"/><path d="M931.6 376.7l4.2 7.8h-8.4z"/><path d="M916.7 388.5l4.2 7.8h-8.4z"/><path d="M902.7 400.5l4.2 7.8h-8.4z"/><path d="M889.6 410.5l4.2 7.8h-8.4z"/><path d="M878.3 420.0l4.2 7.8h-8.4z"/><path d="M867.8 427.8l4.2 7.8h-8.4z"/><path d="M857.8 435.6l4.2 7.8h-8.4z"/><path d="M848.9 443.4l4.2 7.8h-8.4z"/><path d="M840.5 450.7l4.2 7.8h-8.4z"/><path d="M832.9 456.7l4.2 7.8h-8.4z"/><path d="M825.6 462.7l4.2 7.8h-8.4z"/><path d="M819.6 467.8l4.2 7.8h-8.4z"/><path d="M813.8 472.3l4.2 7.8h-8.4z"/><path d="M808.9 477.1l4.2 7.8h-8.4z"/><path d="M804.0 481.1l4.2 7.8h-8.4z"/><path d="M799.9 485.1l4.2 7.8h-8.4z"/><path d="M796.2 488.9l4.2 7.8h-8.4z"/><path d="M792.7 492.3l4.2 7.8h-8.4z"/><path d="M789.8 495.5l4.2 7.8h-8.4z"/><path d="M787.1 498.6l4.2 7.8h-8.4z"/><path d="M784.8 501.5l4.2 7.8h-8.4z"/><path d="M782.7 504.2l4.2 7.8h-8.4z"/><path d="M780.8 506.7l4.2 7.8h-8.4z"/><path d="M779.1 509.1l4.2 7.8h-8.4z"/><path d="M777.6 511.4l4.2 7.8h-8.4z"/><path d="M776.2 513.5l4.2 7.8h-8.4z"/><path d="M774.9 515.5l4.2 7.8h-8.4z"/><path d="M773.7 517.3l4.2 7.8h-8.4z"/><path d="M772.6 519.0l4.2 7.8h-8.4z"/><path d="M771.6 520.7l4.2 7.8h-8.4z"/><path d="M770.6 522.3l4.2 7.8h-8.4z"/><path d="M769.6 523.9l4.2 7.8h-8.4z"/><path d="M768.7 525.3l4.2 7.8h-8.4z"/><path d="M767.7 526.7l4.2 7.8h-8.4z"/><path d="M766.8 528.0l4.2 7.8h-8.4z"/><path d="M765.9 529.3l4.2 7.8h-8.4z"/><path d="M765.0 530.5l4.2 7.8h-8.4z"/><path d="M764.0 531.5l4.2 7.8h-8.4z"/><path d="M762.9 532.3l4.2 7.8h-8.4z"/><path d="M761.8 533.0l4.2 7.8h-8.4z"/><path d="M760.7 533.6l4.2 7.8h-8.4z"/><path d="M759.5 534.0l4.2 7.8h-8.4z"/><path d="M758.3 534.4l4.2 7.8h-8.4z"/><path d="M757.0 534.7l4.2 7.8h-8.4z"/><path d="M755.8 535.0l4.2 7.8h-8.4z"/><path d="M754.5 535.2l4.2 7.8h-8.4z"/><path d="M753.2 535.3l4.2 7.8h-8.4z"/><path d="M752.0 535.3l4.2 7.8h-8.4z"/><path d="M750.7 535.4l4.2 7.8h-8.4z"/><path d="M749.4 535.4l4.2 7.8h-8.4z"/><path d="M748.2 535.4l4.2 7.8h-8.4z"/><path d="M746.9 535.3l4.2 7.8h-8.4z"/><path d="M745.6 535.3l4.2 7.8h-8.4z"/><path d="M744.4 535.3l4.2 7.8h-8.4z"/><path d="M743.1 535.3l4.2 7.8h-8.4z"/><path d="M741.9 535.4l4.2 7.8h-8.4z"/><path d="M740.6 535.4l4.2 7.8h-8.4z"/><path d="M739.4 535.5l4.2 7.8h-8.4z"/><path d="M738.1 535.6l4.2 7.8h-8.4z"/><path d="M736.9 535.7l4.2 7.8h-8.4z"/><path d="M735.6 535.7l4.2 7.8h-8.4z"/><path d="M734.4 535.9l4.2 7.8h-8.4z"/><path d="M733.2 536.0l4.2 7.8h-8.4z"/><path d="M732.0 536.1l4.2 7.8h-8.4z"/><path d="M730.7 536.3l4.2 7.8h-8.4z"/><path d="M729.5 536.6l4.2 7.8h-8.4z"/><path d="M728.3 536.8l4.2 7.8h-8.4z"/><path d="M727.1 537.1l4.2 7.8h-8.4z"/><path d="M726.0 537.4l4.2 7.8h-8.4z"/><path d="M724.8 537.8l4.2 7.8h-8.4z"/><path d="M723.7 538.2l4.2 7.8h-8.4z"/><path d="M722.5 538.6l4.2 7.8h-8.4z"/><path d="M721.4 539.1l4.2 7.8h-8.4z"/><path d="M720.3 539.6l4.2 7.8h-8.4z"/><path d="M719.2 540.1l4.2 7.8h-8.4z"/><path d="M718.2 540.7l4.2 7.8h-8.4z"/><path d="M717.1 541.3l4.2 7.8h-8.4z"/><path d="M716.1 541.9l4.2 7.8h-8.4z"/><path d="M715.1 542.6l4.2 7.8h-8.4z"/><path d="M714.0 543.3l4.2 7.8h-8.4z"/><path d="M713.0 544.0l4.2 7.8h-8.4z"/><path d="M712.0 544.7l4.2 7.8h-8.4z"/><path d="M710.9 545.4l4.2 7.8h-8.4z"/><path d="M709.9 546.2l4.2 7.8h-8.4z"/><path d="M708.9 546.9l4.2 7.8h-8.4z"/><path d="M707.8 547.7l4.2 7.8h-8.4z"/><path d="M706.8 548.5l4.2 7.8h-8.4z"/><path d="M705.8 549.4l4.2 7.8h-8.4z"/><path d="M704.7 550.3l4.2 7.8h-8.4z"/><path d="M703.7 551.3l4.2 7.8h-8.4z"/><path d="M703.5 551.4l4.2 7.8h-8.4z"/><path d="M701.9 552.7l4.2 7.8h-8.4z"/></g>
<g fill="none" stroke="#000" stroke-width="1.9">
<path d="M642.2 325.3 H1000.8 V603.1 H642.2 Z" stroke-linejoin="miter"/>
<g stroke-width="1.5">
<path d="M642.2 387.8 h5.4"/>
<path d="M642.2 530.3 h5.4"/>
<path d="M642.2 459.1 h2.8"/>
<path d="M722.0 603.1 v-5.6"/>
<path d="M882.5 603.1 v-5.6"/>
<path d="M802.2 603.1 v-3"/>
<path d="M962.7 603.1 v-3"/>
</g></g>
<g font-family="'Liberation Sans', Arial, Helvetica, sans-serif" font-weight="bold" fill="#000" stroke="#000" stroke-width="0.5" stroke-linejoin="round">
<g font-size="14" letter-spacing="-1.7" stroke-width="0.45">
<text x="624.3" y="391.5">2k</text>
<text x="630.5" y="534.0">0</text>
<text x="718.4" y="619.8">0</text>
<text x="875.6" y="619.0">2k</text>
</g>
<g font-size="15.7">
<text x="679.9" y="350.0" letter-spacing="-1.25">As prepared</text>
<text x="681.4" y="371.5" letter-spacing="-1.05">M-200</text>
<text x="681.4" y="394.5" letter-spacing="-1.05">M-300</text>
<text x="681.4" y="417.1" letter-spacing="-1.05">M-400</text>
<text x="681.4" y="438.5" letter-spacing="-1.05">M-500</text>
</g></g>
<g fill="#fff" stroke="#ff0000" stroke-width="2"><rect x="664.9" y="343.7" width="5.8" height="5.8"/></g>
<g fill="#fff" stroke="#808000" stroke-width="2.2" stroke-linejoin="round"><path d="M667.8 363.3l4.2 7.8h-8.4z"/></g>
<g fill="#fff" stroke="#0000ff" stroke-width="2.1"><circle cx="667.1" cy="391.5" r="3.5"/></g>
<g fill="#fff" stroke="#800080" stroke-width="2.2" stroke-linejoin="round"><path d="M667.2 414.2m0.00 -3.62l0.94 2.71l2.86 0.06l-2.28 1.73l0.83 2.74l-2.35 -1.64l-2.35 1.64l0.83 -2.74l-2.28 -1.73l2.86 -0.06z"/></g>
<g fill="none" stroke="#000000" stroke-width="2" stroke-linecap="round"><path d="M662.8 435.3h8.4M667.0 430.9v8.8"/></g>
<g font-family="'Liberation Serif', 'DejaVu Serif', 'Times New Roman', serif" fill="#000" stroke="#000" stroke-width="0.3">
<text x="818.0" y="635.9" font-size="19.5">ε<tspan font-size="19" dy="1.8" dx="-1.9">′</tspan></text>
<text transform="translate(617.9,481.6) rotate(-90)" font-size="19">ε<tspan font-size="12.8" dy="-1.6" dx="-0.8">″</tspan></text>
</g>
</svg>
</body>
</html>
